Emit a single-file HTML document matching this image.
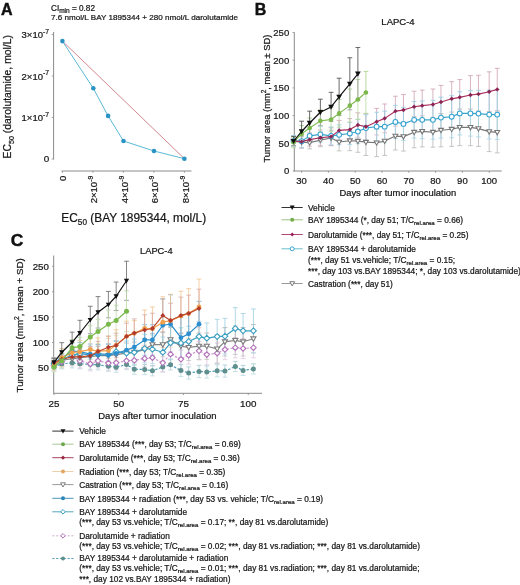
<!DOCTYPE html><html><head><meta charset="utf-8"><style>html,body{margin:0;padding:0;background:#fff;width:520px;height:585px;overflow:hidden}svg{display:block;will-change:transform}text{font-family:"Liberation Sans",sans-serif}text.t{fill:#161616;stroke:#161616;stroke-width:0.22px}</style></head><body>
<svg width="520" height="585" viewBox="0 0 520 585">
<rect width="520" height="585" fill="#fff"/>
<text class="L" x="0.9" y="15.2" font-size="16" text-anchor="start" font-weight="bold" fill="#111" stroke="#111" stroke-width="0.45">A</text>
<text class="t" x="51" y="11.3" font-size="8.2" fill="#222">CI<tspan font-size="6.5" dy="2">min</tspan><tspan dy="-2"> = 0.82</tspan></text>
<text class="t" x="51" y="20.2" font-size="8.1" text-anchor="start" font-weight="normal" fill="#222" >7.6 nmol/L BAY 1895344 + 280 nmol/L darolutamide</text>
<line x1="53.6" y1="32" x2="53.6" y2="159.5" stroke="#8a8a8a" stroke-width="1" />
<line x1="51.8" y1="159" x2="53.6" y2="159" stroke="#8a8a8a" stroke-width="0.8" />
<line x1="51.8" y1="117.5" x2="53.6" y2="117.5" stroke="#8a8a8a" stroke-width="0.8" />
<line x1="51.8" y1="76" x2="53.6" y2="76" stroke="#8a8a8a" stroke-width="0.8" />
<line x1="51.8" y1="34.5" x2="53.6" y2="34.5" stroke="#8a8a8a" stroke-width="0.8" />
<text class="t" x="49" y="38" font-size="9.5" text-anchor="end" fill="#222">3×10<tspan font-size="6.8" dy="-4.2">-7</tspan></text>
<text class="t" x="49" y="79.5" font-size="9.5" text-anchor="end" fill="#222">2×10<tspan font-size="6.8" dy="-4.2">-7</tspan></text>
<text class="t" x="49" y="121" font-size="9.5" text-anchor="end" fill="#222">1×10<tspan font-size="6.8" dy="-4.2">-7</tspan></text>
<text class="t" x="49.2" y="162.3" font-size="9.9" text-anchor="end" font-weight="normal" fill="#222" >0</text>
<line x1="61.5" y1="171" x2="191.5" y2="171" stroke="#8a8a8a" stroke-width="1" />
<line x1="62.4" y1="171" x2="62.4" y2="172.8" stroke="#8a8a8a" stroke-width="0.8" />
<line x1="92.9" y1="171" x2="92.9" y2="172.8" stroke="#8a8a8a" stroke-width="0.8" />
<line x1="123.4" y1="171" x2="123.4" y2="172.8" stroke="#8a8a8a" stroke-width="0.8" />
<line x1="153.9" y1="171" x2="153.9" y2="172.8" stroke="#8a8a8a" stroke-width="0.8" />
<line x1="184.4" y1="171" x2="184.4" y2="172.8" stroke="#8a8a8a" stroke-width="0.8" />
<text class="t" transform="translate(65.9,175.8) rotate(-90)" font-size="9.5" text-anchor="end" fill="#222">0</text>
<text class="t" transform="translate(97.3,175.8) rotate(-90)" font-size="9.5" text-anchor="end" fill="#222">2×10<tspan font-size="6.8" dy="-4.2">-9</tspan></text>
<text class="t" transform="translate(127.8,175.8) rotate(-90)" font-size="9.5" text-anchor="end" fill="#222">4×10<tspan font-size="6.8" dy="-4.2">-9</tspan></text>
<text class="t" transform="translate(158.3,175.8) rotate(-90)" font-size="9.5" text-anchor="end" fill="#222">6×10<tspan font-size="6.8" dy="-4.2">-9</tspan></text>
<text class="t" transform="translate(188.8,175.8) rotate(-90)" font-size="9.5" text-anchor="end" fill="#222">8×10<tspan font-size="6.8" dy="-4.2">-9</tspan></text>
<text class="t" x="61.3" y="222" font-size="11.9" fill="#222">EC<tspan font-size="8.2" dy="2.6">50</tspan><tspan dy="-2.6"> (BAY 1895344, mol/L)</tspan></text>
<text class="t" transform="translate(11.2,158.5) rotate(-90)" font-size="10.4" fill="#222">EC<tspan font-size="7.2" dy="2.4">50</tspan><tspan dy="-2.4"> (darolutamide, mol/L)</tspan></text>
<line x1="62.4" y1="41.1" x2="184.4" y2="158.7" stroke="#c97b80" stroke-width="0.9" />
<polyline points="62.4,41.1 93.3,88.3 108.1,115.9 123.5,141 154,151 184.4,158.7" fill="none" stroke="#5ab9d6" stroke-width="1.0" stroke-linejoin="round" />
<circle cx="62.4" cy="41.1" r="2.3" fill="#2b93c4"/>
<circle cx="93.3" cy="88.3" r="2.3" fill="#2b93c4"/>
<circle cx="108.1" cy="115.9" r="2.3" fill="#2b93c4"/>
<circle cx="123.5" cy="141" r="2.3" fill="#2b93c4"/>
<circle cx="154" cy="151" r="2.3" fill="#2b93c4"/>
<circle cx="184.4" cy="158.7" r="2.3" fill="#2b93c4"/>
<text class="L" x="254.8" y="14.8" font-size="16" text-anchor="start" font-weight="bold" fill="#111" stroke="#111" stroke-width="0.45">B</text>
<text class="t" x="398" y="25" font-size="9.5" text-anchor="middle" font-weight="normal" fill="#222" >LAPC-4</text>
<line x1="294.3" y1="32.3" x2="294.3" y2="171.5" stroke="#8a8a8a" stroke-width="1" />
<line x1="294.3" y1="171" x2="501.7" y2="171" stroke="#8a8a8a" stroke-width="1" />
<line x1="292.6" y1="171" x2="294.3" y2="171" stroke="#8a8a8a" stroke-width="0.8" />
<text class="t" x="289.2" y="174.45" font-size="9.5" text-anchor="end" font-weight="normal" fill="#222" >0</text>
<line x1="292.6" y1="143.3" x2="294.3" y2="143.3" stroke="#8a8a8a" stroke-width="0.8" />
<text class="t" x="289.2" y="146.75" font-size="9.5" text-anchor="end" font-weight="normal" fill="#222" >50</text>
<line x1="292.6" y1="115.6" x2="294.3" y2="115.6" stroke="#8a8a8a" stroke-width="0.8" />
<text class="t" x="289.2" y="119.05" font-size="9.5" text-anchor="end" font-weight="normal" fill="#222" >100</text>
<line x1="292.6" y1="87.9" x2="294.3" y2="87.9" stroke="#8a8a8a" stroke-width="0.8" />
<text class="t" x="289.2" y="91.35" font-size="9.5" text-anchor="end" font-weight="normal" fill="#222" >150</text>
<line x1="292.6" y1="60.2" x2="294.3" y2="60.2" stroke="#8a8a8a" stroke-width="0.8" />
<text class="t" x="289.2" y="63.65" font-size="9.5" text-anchor="end" font-weight="normal" fill="#222" >200</text>
<line x1="292.6" y1="32.5" x2="294.3" y2="32.5" stroke="#8a8a8a" stroke-width="0.8" />
<text class="t" x="289.2" y="35.95" font-size="9.5" text-anchor="end" font-weight="normal" fill="#222" >250</text>
<line x1="301.6" y1="171" x2="301.6" y2="172.8" stroke="#8a8a8a" stroke-width="0.8" />
<text class="t" x="301.6" y="184" font-size="9.5" text-anchor="middle" font-weight="normal" fill="#222" >30</text>
<line x1="328.4" y1="171" x2="328.4" y2="172.8" stroke="#8a8a8a" stroke-width="0.8" />
<text class="t" x="328.4" y="184" font-size="9.5" text-anchor="middle" font-weight="normal" fill="#222" >40</text>
<line x1="355.2" y1="171" x2="355.2" y2="172.8" stroke="#8a8a8a" stroke-width="0.8" />
<text class="t" x="355.2" y="184" font-size="9.5" text-anchor="middle" font-weight="normal" fill="#222" >50</text>
<line x1="382" y1="171" x2="382" y2="172.8" stroke="#8a8a8a" stroke-width="0.8" />
<text class="t" x="382" y="184" font-size="9.5" text-anchor="middle" font-weight="normal" fill="#222" >60</text>
<line x1="408.8" y1="171" x2="408.8" y2="172.8" stroke="#8a8a8a" stroke-width="0.8" />
<text class="t" x="408.8" y="184" font-size="9.5" text-anchor="middle" font-weight="normal" fill="#222" >70</text>
<line x1="435.6" y1="171" x2="435.6" y2="172.8" stroke="#8a8a8a" stroke-width="0.8" />
<text class="t" x="435.6" y="184" font-size="9.5" text-anchor="middle" font-weight="normal" fill="#222" >80</text>
<line x1="462.4" y1="171" x2="462.4" y2="172.8" stroke="#8a8a8a" stroke-width="0.8" />
<text class="t" x="462.4" y="184" font-size="9.5" text-anchor="middle" font-weight="normal" fill="#222" >90</text>
<line x1="489.2" y1="171" x2="489.2" y2="172.8" stroke="#8a8a8a" stroke-width="0.8" />
<text class="t" x="489.2" y="184" font-size="9.5" text-anchor="middle" font-weight="normal" fill="#222" >100</text>
<text class="t" x="397.8" y="195.6" font-size="9.4" text-anchor="middle" font-weight="normal" fill="#222" >Days after tumor inoculation</text>
<text class="t" transform="translate(269.6,98.6) rotate(-90)" font-size="9.35" text-anchor="middle" fill="#222">Tumor area (mm<tspan font-size="6.5" dy="-3.6">2</tspan><tspan dy="3.6">, mean ± SD)</tspan></text>
<line x1="293.56" y1="141.08" x2="293.56" y2="136.65" stroke="#b0b0b0" stroke-width="0.8" />
<line x1="291.16" y1="136.65" x2="295.96" y2="136.65" stroke="#b0b0b0" stroke-width="0.8" />
<line x1="293.56" y1="141.08" x2="293.56" y2="145.52" stroke="#b8b8b8" stroke-width="0.8" />
<line x1="291.16" y1="145.52" x2="295.96" y2="145.52" stroke="#b8b8b8" stroke-width="0.8" />
<line x1="301.6" y1="142.19" x2="301.6" y2="136.65" stroke="#b0b0b0" stroke-width="0.8" />
<line x1="299.2" y1="136.65" x2="304" y2="136.65" stroke="#b0b0b0" stroke-width="0.8" />
<line x1="301.6" y1="142.19" x2="301.6" y2="147.73" stroke="#b8b8b8" stroke-width="0.8" />
<line x1="299.2" y1="147.73" x2="304" y2="147.73" stroke="#b8b8b8" stroke-width="0.8" />
<line x1="309.64" y1="142.75" x2="309.64" y2="136.65" stroke="#b0b0b0" stroke-width="0.8" />
<line x1="307.24" y1="136.65" x2="312.04" y2="136.65" stroke="#b0b0b0" stroke-width="0.8" />
<line x1="309.64" y1="142.75" x2="309.64" y2="148.84" stroke="#b8b8b8" stroke-width="0.8" />
<line x1="307.24" y1="148.84" x2="312.04" y2="148.84" stroke="#b8b8b8" stroke-width="0.8" />
<line x1="320.36" y1="140.09" x2="320.36" y2="133.44" stroke="#b0b0b0" stroke-width="0.8" />
<line x1="317.96" y1="133.44" x2="322.76" y2="133.44" stroke="#b0b0b0" stroke-width="0.8" />
<line x1="320.36" y1="140.09" x2="320.36" y2="146.73" stroke="#b8b8b8" stroke-width="0.8" />
<line x1="317.96" y1="146.73" x2="322.76" y2="146.73" stroke="#b8b8b8" stroke-width="0.8" />
<line x1="331.08" y1="137.98" x2="331.08" y2="130.23" stroke="#b0b0b0" stroke-width="0.8" />
<line x1="328.68" y1="130.23" x2="333.48" y2="130.23" stroke="#b0b0b0" stroke-width="0.8" />
<line x1="331.08" y1="137.98" x2="331.08" y2="145.74" stroke="#b8b8b8" stroke-width="0.8" />
<line x1="328.68" y1="145.74" x2="333.48" y2="145.74" stroke="#b8b8b8" stroke-width="0.8" />
<line x1="339.12" y1="142.03" x2="339.12" y2="133.16" stroke="#b0b0b0" stroke-width="0.8" />
<line x1="336.72" y1="133.16" x2="341.52" y2="133.16" stroke="#b0b0b0" stroke-width="0.8" />
<line x1="339.12" y1="142.03" x2="339.12" y2="150.89" stroke="#b8b8b8" stroke-width="0.8" />
<line x1="336.72" y1="150.89" x2="341.52" y2="150.89" stroke="#b8b8b8" stroke-width="0.8" />
<line x1="349.84" y1="140.7" x2="349.84" y2="130.72" stroke="#b0b0b0" stroke-width="0.8" />
<line x1="347.44" y1="130.72" x2="352.24" y2="130.72" stroke="#b0b0b0" stroke-width="0.8" />
<line x1="349.84" y1="140.7" x2="349.84" y2="150.67" stroke="#b8b8b8" stroke-width="0.8" />
<line x1="347.44" y1="150.67" x2="352.24" y2="150.67" stroke="#b8b8b8" stroke-width="0.8" />
<line x1="357.88" y1="141.19" x2="357.88" y2="130.11" stroke="#b0b0b0" stroke-width="0.8" />
<line x1="355.48" y1="130.11" x2="360.28" y2="130.11" stroke="#b0b0b0" stroke-width="0.8" />
<line x1="357.88" y1="141.19" x2="357.88" y2="152.27" stroke="#b8b8b8" stroke-width="0.8" />
<line x1="355.48" y1="152.27" x2="360.28" y2="152.27" stroke="#b8b8b8" stroke-width="0.8" />
<line x1="365.92" y1="142.19" x2="365.92" y2="128.9" stroke="#b0b0b0" stroke-width="0.8" />
<line x1="363.52" y1="128.9" x2="368.32" y2="128.9" stroke="#b0b0b0" stroke-width="0.8" />
<line x1="365.92" y1="142.19" x2="365.92" y2="155.49" stroke="#b8b8b8" stroke-width="0.8" />
<line x1="363.52" y1="155.49" x2="368.32" y2="155.49" stroke="#b8b8b8" stroke-width="0.8" />
<line x1="376.64" y1="142.75" x2="376.64" y2="128.9" stroke="#b0b0b0" stroke-width="0.8" />
<line x1="374.24" y1="128.9" x2="379.04" y2="128.9" stroke="#b0b0b0" stroke-width="0.8" />
<line x1="376.64" y1="142.75" x2="376.64" y2="156.6" stroke="#b8b8b8" stroke-width="0.8" />
<line x1="374.24" y1="156.6" x2="379.04" y2="156.6" stroke="#b8b8b8" stroke-width="0.8" />
<line x1="384.68" y1="141.08" x2="384.68" y2="126.68" stroke="#b0b0b0" stroke-width="0.8" />
<line x1="382.28" y1="126.68" x2="387.08" y2="126.68" stroke="#b0b0b0" stroke-width="0.8" />
<line x1="384.68" y1="141.08" x2="384.68" y2="155.49" stroke="#b8b8b8" stroke-width="0.8" />
<line x1="382.28" y1="155.49" x2="387.08" y2="155.49" stroke="#b8b8b8" stroke-width="0.8" />
<line x1="395.4" y1="136.1" x2="395.4" y2="122.25" stroke="#b0b0b0" stroke-width="0.8" />
<line x1="393" y1="122.25" x2="397.8" y2="122.25" stroke="#b0b0b0" stroke-width="0.8" />
<line x1="395.4" y1="136.1" x2="395.4" y2="149.95" stroke="#b8b8b8" stroke-width="0.8" />
<line x1="393" y1="149.95" x2="397.8" y2="149.95" stroke="#b8b8b8" stroke-width="0.8" />
<line x1="403.44" y1="136.65" x2="403.44" y2="122.25" stroke="#b0b0b0" stroke-width="0.8" />
<line x1="401.04" y1="122.25" x2="405.84" y2="122.25" stroke="#b0b0b0" stroke-width="0.8" />
<line x1="403.44" y1="136.65" x2="403.44" y2="151.06" stroke="#b8b8b8" stroke-width="0.8" />
<line x1="401.04" y1="151.06" x2="405.84" y2="151.06" stroke="#b8b8b8" stroke-width="0.8" />
<line x1="414.16" y1="132.22" x2="414.16" y2="116.71" stroke="#b0b0b0" stroke-width="0.8" />
<line x1="411.76" y1="116.71" x2="416.56" y2="116.71" stroke="#b0b0b0" stroke-width="0.8" />
<line x1="414.16" y1="132.22" x2="414.16" y2="147.73" stroke="#b8b8b8" stroke-width="0.8" />
<line x1="411.76" y1="147.73" x2="416.56" y2="147.73" stroke="#b8b8b8" stroke-width="0.8" />
<line x1="422.2" y1="131.39" x2="422.2" y2="115.88" stroke="#b0b0b0" stroke-width="0.8" />
<line x1="419.8" y1="115.88" x2="424.6" y2="115.88" stroke="#b0b0b0" stroke-width="0.8" />
<line x1="422.2" y1="131.39" x2="422.2" y2="146.9" stroke="#b8b8b8" stroke-width="0.8" />
<line x1="419.8" y1="146.9" x2="424.6" y2="146.9" stroke="#b8b8b8" stroke-width="0.8" />
<line x1="432.92" y1="132.22" x2="432.92" y2="117.26" stroke="#b0b0b0" stroke-width="0.8" />
<line x1="430.52" y1="117.26" x2="435.32" y2="117.26" stroke="#b0b0b0" stroke-width="0.8" />
<line x1="432.92" y1="132.22" x2="432.92" y2="147.18" stroke="#b8b8b8" stroke-width="0.8" />
<line x1="430.52" y1="147.18" x2="435.32" y2="147.18" stroke="#b8b8b8" stroke-width="0.8" />
<line x1="440.96" y1="130.23" x2="440.96" y2="113.61" stroke="#b0b0b0" stroke-width="0.8" />
<line x1="438.56" y1="113.61" x2="443.36" y2="113.61" stroke="#b0b0b0" stroke-width="0.8" />
<line x1="440.96" y1="130.23" x2="440.96" y2="146.85" stroke="#b8b8b8" stroke-width="0.8" />
<line x1="438.56" y1="146.85" x2="443.36" y2="146.85" stroke="#b8b8b8" stroke-width="0.8" />
<line x1="451.68" y1="129.23" x2="451.68" y2="112.05" stroke="#b0b0b0" stroke-width="0.8" />
<line x1="449.28" y1="112.05" x2="454.08" y2="112.05" stroke="#b0b0b0" stroke-width="0.8" />
<line x1="451.68" y1="129.23" x2="451.68" y2="146.4" stroke="#b8b8b8" stroke-width="0.8" />
<line x1="449.28" y1="146.4" x2="454.08" y2="146.4" stroke="#b8b8b8" stroke-width="0.8" />
<line x1="459.72" y1="127.4" x2="459.72" y2="109.12" stroke="#b0b0b0" stroke-width="0.8" />
<line x1="457.32" y1="109.12" x2="462.12" y2="109.12" stroke="#b0b0b0" stroke-width="0.8" />
<line x1="459.72" y1="127.4" x2="459.72" y2="145.68" stroke="#b8b8b8" stroke-width="0.8" />
<line x1="457.32" y1="145.68" x2="462.12" y2="145.68" stroke="#b8b8b8" stroke-width="0.8" />
<line x1="470.44" y1="127.4" x2="470.44" y2="109.12" stroke="#b0b0b0" stroke-width="0.8" />
<line x1="468.04" y1="109.12" x2="472.84" y2="109.12" stroke="#b0b0b0" stroke-width="0.8" />
<line x1="470.44" y1="127.4" x2="470.44" y2="145.68" stroke="#b8b8b8" stroke-width="0.8" />
<line x1="468.04" y1="145.68" x2="472.84" y2="145.68" stroke="#b8b8b8" stroke-width="0.8" />
<line x1="478.48" y1="128.67" x2="478.48" y2="110.95" stroke="#b0b0b0" stroke-width="0.8" />
<line x1="476.08" y1="110.95" x2="480.88" y2="110.95" stroke="#b0b0b0" stroke-width="0.8" />
<line x1="478.48" y1="128.67" x2="478.48" y2="146.4" stroke="#b8b8b8" stroke-width="0.8" />
<line x1="476.08" y1="146.4" x2="480.88" y2="146.4" stroke="#b8b8b8" stroke-width="0.8" />
<line x1="489.2" y1="131.67" x2="489.2" y2="111.72" stroke="#b0b0b0" stroke-width="0.8" />
<line x1="486.8" y1="111.72" x2="491.6" y2="111.72" stroke="#b0b0b0" stroke-width="0.8" />
<line x1="489.2" y1="131.67" x2="489.2" y2="151.61" stroke="#b8b8b8" stroke-width="0.8" />
<line x1="486.8" y1="151.61" x2="491.6" y2="151.61" stroke="#b8b8b8" stroke-width="0.8" />
<line x1="497.24" y1="132.39" x2="497.24" y2="111.89" stroke="#b0b0b0" stroke-width="0.8" />
<line x1="494.84" y1="111.89" x2="499.64" y2="111.89" stroke="#b0b0b0" stroke-width="0.8" />
<line x1="497.24" y1="132.39" x2="497.24" y2="152.88" stroke="#b8b8b8" stroke-width="0.8" />
<line x1="494.84" y1="152.88" x2="499.64" y2="152.88" stroke="#b8b8b8" stroke-width="0.8" />
<line x1="293.56" y1="141.08" x2="293.56" y2="135.54" stroke="#cfa0b4" stroke-width="0.8" />
<line x1="291.16" y1="135.54" x2="295.96" y2="135.54" stroke="#cfa0b4" stroke-width="0.8" />
<line x1="293.56" y1="141.08" x2="293.56" y2="146.62" stroke="#d8b3c3" stroke-width="0.8" />
<line x1="291.16" y1="146.62" x2="295.96" y2="146.62" stroke="#d8b3c3" stroke-width="0.8" />
<line x1="301.6" y1="141.64" x2="301.6" y2="134.99" stroke="#cfa0b4" stroke-width="0.8" />
<line x1="299.2" y1="134.99" x2="304" y2="134.99" stroke="#cfa0b4" stroke-width="0.8" />
<line x1="301.6" y1="141.64" x2="301.6" y2="148.29" stroke="#d8b3c3" stroke-width="0.8" />
<line x1="299.2" y1="148.29" x2="304" y2="148.29" stroke="#d8b3c3" stroke-width="0.8" />
<line x1="309.64" y1="139.59" x2="309.64" y2="132.94" stroke="#cfa0b4" stroke-width="0.8" />
<line x1="307.24" y1="132.94" x2="312.04" y2="132.94" stroke="#cfa0b4" stroke-width="0.8" />
<line x1="309.64" y1="139.59" x2="309.64" y2="146.24" stroke="#d8b3c3" stroke-width="0.8" />
<line x1="307.24" y1="146.24" x2="312.04" y2="146.24" stroke="#d8b3c3" stroke-width="0.8" />
<line x1="320.36" y1="137.76" x2="320.36" y2="130" stroke="#cfa0b4" stroke-width="0.8" />
<line x1="317.96" y1="130" x2="322.76" y2="130" stroke="#cfa0b4" stroke-width="0.8" />
<line x1="320.36" y1="137.76" x2="320.36" y2="145.52" stroke="#d8b3c3" stroke-width="0.8" />
<line x1="317.96" y1="145.52" x2="322.76" y2="145.52" stroke="#d8b3c3" stroke-width="0.8" />
<line x1="331.08" y1="136.65" x2="331.08" y2="127.79" stroke="#cfa0b4" stroke-width="0.8" />
<line x1="328.68" y1="127.79" x2="333.48" y2="127.79" stroke="#cfa0b4" stroke-width="0.8" />
<line x1="331.08" y1="136.65" x2="331.08" y2="145.52" stroke="#d8b3c3" stroke-width="0.8" />
<line x1="328.68" y1="145.52" x2="333.48" y2="145.52" stroke="#d8b3c3" stroke-width="0.8" />
<line x1="339.12" y1="130.39" x2="339.12" y2="120.42" stroke="#cfa0b4" stroke-width="0.8" />
<line x1="336.72" y1="120.42" x2="341.52" y2="120.42" stroke="#cfa0b4" stroke-width="0.8" />
<line x1="339.12" y1="130.39" x2="339.12" y2="140.36" stroke="#d8b3c3" stroke-width="0.8" />
<line x1="336.72" y1="140.36" x2="341.52" y2="140.36" stroke="#d8b3c3" stroke-width="0.8" />
<line x1="349.84" y1="129.62" x2="349.84" y2="118.54" stroke="#cfa0b4" stroke-width="0.8" />
<line x1="347.44" y1="118.54" x2="352.24" y2="118.54" stroke="#cfa0b4" stroke-width="0.8" />
<line x1="349.84" y1="129.62" x2="349.84" y2="140.7" stroke="#d8b3c3" stroke-width="0.8" />
<line x1="347.44" y1="140.7" x2="352.24" y2="140.7" stroke="#d8b3c3" stroke-width="0.8" />
<line x1="357.88" y1="125.02" x2="357.88" y2="112.83" stroke="#cfa0b4" stroke-width="0.8" />
<line x1="355.48" y1="112.83" x2="360.28" y2="112.83" stroke="#cfa0b4" stroke-width="0.8" />
<line x1="357.88" y1="125.02" x2="357.88" y2="137.21" stroke="#d8b3c3" stroke-width="0.8" />
<line x1="355.48" y1="137.21" x2="360.28" y2="137.21" stroke="#d8b3c3" stroke-width="0.8" />
<line x1="365.92" y1="126.68" x2="365.92" y2="113.38" stroke="#cfa0b4" stroke-width="0.8" />
<line x1="363.52" y1="113.38" x2="368.32" y2="113.38" stroke="#cfa0b4" stroke-width="0.8" />
<line x1="365.92" y1="126.68" x2="365.92" y2="139.98" stroke="#d8b3c3" stroke-width="0.8" />
<line x1="363.52" y1="139.98" x2="368.32" y2="139.98" stroke="#d8b3c3" stroke-width="0.8" />
<line x1="376.64" y1="121.69" x2="376.64" y2="108.4" stroke="#cfa0b4" stroke-width="0.8" />
<line x1="374.24" y1="108.4" x2="379.04" y2="108.4" stroke="#cfa0b4" stroke-width="0.8" />
<line x1="376.64" y1="121.69" x2="376.64" y2="134.99" stroke="#d8b3c3" stroke-width="0.8" />
<line x1="374.24" y1="134.99" x2="379.04" y2="134.99" stroke="#d8b3c3" stroke-width="0.8" />
<line x1="384.68" y1="118.37" x2="384.68" y2="103.97" stroke="#cfa0b4" stroke-width="0.8" />
<line x1="382.28" y1="103.97" x2="387.08" y2="103.97" stroke="#cfa0b4" stroke-width="0.8" />
<line x1="384.68" y1="118.37" x2="384.68" y2="132.77" stroke="#d8b3c3" stroke-width="0.8" />
<line x1="382.28" y1="132.77" x2="387.08" y2="132.77" stroke="#d8b3c3" stroke-width="0.8" />
<line x1="395.4" y1="111.17" x2="395.4" y2="96.21" stroke="#cfa0b4" stroke-width="0.8" />
<line x1="393" y1="96.21" x2="397.8" y2="96.21" stroke="#cfa0b4" stroke-width="0.8" />
<line x1="395.4" y1="111.17" x2="395.4" y2="126.13" stroke="#d8b3c3" stroke-width="0.8" />
<line x1="393" y1="126.13" x2="397.8" y2="126.13" stroke="#d8b3c3" stroke-width="0.8" />
<line x1="403.44" y1="110.06" x2="403.44" y2="94.55" stroke="#cfa0b4" stroke-width="0.8" />
<line x1="401.04" y1="94.55" x2="405.84" y2="94.55" stroke="#cfa0b4" stroke-width="0.8" />
<line x1="403.44" y1="110.06" x2="403.44" y2="125.57" stroke="#d8b3c3" stroke-width="0.8" />
<line x1="401.04" y1="125.57" x2="405.84" y2="125.57" stroke="#d8b3c3" stroke-width="0.8" />
<line x1="414.16" y1="106.74" x2="414.16" y2="91.22" stroke="#cfa0b4" stroke-width="0.8" />
<line x1="411.76" y1="91.22" x2="416.56" y2="91.22" stroke="#cfa0b4" stroke-width="0.8" />
<line x1="414.16" y1="106.74" x2="414.16" y2="122.25" stroke="#d8b3c3" stroke-width="0.8" />
<line x1="411.76" y1="122.25" x2="416.56" y2="122.25" stroke="#d8b3c3" stroke-width="0.8" />
<line x1="422.2" y1="105.63" x2="422.2" y2="90.12" stroke="#cfa0b4" stroke-width="0.8" />
<line x1="419.8" y1="90.12" x2="424.6" y2="90.12" stroke="#cfa0b4" stroke-width="0.8" />
<line x1="422.2" y1="105.63" x2="422.2" y2="121.14" stroke="#d8b3c3" stroke-width="0.8" />
<line x1="419.8" y1="121.14" x2="424.6" y2="121.14" stroke="#d8b3c3" stroke-width="0.8" />
<line x1="432.92" y1="104.52" x2="432.92" y2="89.01" stroke="#cfa0b4" stroke-width="0.8" />
<line x1="430.52" y1="89.01" x2="435.32" y2="89.01" stroke="#cfa0b4" stroke-width="0.8" />
<line x1="432.92" y1="104.52" x2="432.92" y2="120.03" stroke="#d8b3c3" stroke-width="0.8" />
<line x1="430.52" y1="120.03" x2="435.32" y2="120.03" stroke="#d8b3c3" stroke-width="0.8" />
<line x1="440.96" y1="102.03" x2="440.96" y2="85.41" stroke="#cfa0b4" stroke-width="0.8" />
<line x1="438.56" y1="85.41" x2="443.36" y2="85.41" stroke="#cfa0b4" stroke-width="0.8" />
<line x1="440.96" y1="102.03" x2="440.96" y2="118.65" stroke="#d8b3c3" stroke-width="0.8" />
<line x1="438.56" y1="118.65" x2="443.36" y2="118.65" stroke="#d8b3c3" stroke-width="0.8" />
<line x1="451.68" y1="98.81" x2="451.68" y2="81.64" stroke="#cfa0b4" stroke-width="0.8" />
<line x1="449.28" y1="81.64" x2="454.08" y2="81.64" stroke="#cfa0b4" stroke-width="0.8" />
<line x1="451.68" y1="98.81" x2="451.68" y2="115.99" stroke="#d8b3c3" stroke-width="0.8" />
<line x1="449.28" y1="115.99" x2="454.08" y2="115.99" stroke="#d8b3c3" stroke-width="0.8" />
<line x1="459.72" y1="97.32" x2="459.72" y2="79.59" stroke="#cfa0b4" stroke-width="0.8" />
<line x1="457.32" y1="79.59" x2="462.12" y2="79.59" stroke="#cfa0b4" stroke-width="0.8" />
<line x1="459.72" y1="97.32" x2="459.72" y2="115.05" stroke="#d8b3c3" stroke-width="0.8" />
<line x1="457.32" y1="115.05" x2="462.12" y2="115.05" stroke="#d8b3c3" stroke-width="0.8" />
<line x1="470.44" y1="94.99" x2="470.44" y2="75.6" stroke="#cfa0b4" stroke-width="0.8" />
<line x1="468.04" y1="75.6" x2="472.84" y2="75.6" stroke="#cfa0b4" stroke-width="0.8" />
<line x1="470.44" y1="94.99" x2="470.44" y2="114.38" stroke="#d8b3c3" stroke-width="0.8" />
<line x1="468.04" y1="114.38" x2="472.84" y2="114.38" stroke="#d8b3c3" stroke-width="0.8" />
<line x1="478.48" y1="94.1" x2="478.48" y2="75.27" stroke="#cfa0b4" stroke-width="0.8" />
<line x1="476.08" y1="75.27" x2="480.88" y2="75.27" stroke="#cfa0b4" stroke-width="0.8" />
<line x1="478.48" y1="94.1" x2="478.48" y2="112.94" stroke="#d8b3c3" stroke-width="0.8" />
<line x1="476.08" y1="112.94" x2="480.88" y2="112.94" stroke="#d8b3c3" stroke-width="0.8" />
<line x1="489.2" y1="91.78" x2="489.2" y2="71.83" stroke="#cfa0b4" stroke-width="0.8" />
<line x1="486.8" y1="71.83" x2="491.6" y2="71.83" stroke="#cfa0b4" stroke-width="0.8" />
<line x1="489.2" y1="91.78" x2="489.2" y2="111.72" stroke="#d8b3c3" stroke-width="0.8" />
<line x1="486.8" y1="111.72" x2="491.6" y2="111.72" stroke="#d8b3c3" stroke-width="0.8" />
<line x1="497.24" y1="89.4" x2="497.24" y2="68.34" stroke="#cfa0b4" stroke-width="0.8" />
<line x1="494.84" y1="68.34" x2="499.64" y2="68.34" stroke="#cfa0b4" stroke-width="0.8" />
<line x1="497.24" y1="89.4" x2="497.24" y2="110.45" stroke="#d8b3c3" stroke-width="0.8" />
<line x1="494.84" y1="110.45" x2="499.64" y2="110.45" stroke="#d8b3c3" stroke-width="0.8" />
<line x1="293.56" y1="141.08" x2="293.56" y2="135.54" stroke="#93cde2" stroke-width="0.8" />
<line x1="291.16" y1="135.54" x2="295.96" y2="135.54" stroke="#93cde2" stroke-width="0.8" />
<line x1="293.56" y1="141.08" x2="293.56" y2="146.62" stroke="#a5d6e8" stroke-width="0.8" />
<line x1="291.16" y1="146.62" x2="295.96" y2="146.62" stroke="#a5d6e8" stroke-width="0.8" />
<line x1="301.6" y1="141.19" x2="301.6" y2="134.55" stroke="#93cde2" stroke-width="0.8" />
<line x1="299.2" y1="134.55" x2="304" y2="134.55" stroke="#93cde2" stroke-width="0.8" />
<line x1="301.6" y1="141.19" x2="301.6" y2="147.84" stroke="#a5d6e8" stroke-width="0.8" />
<line x1="299.2" y1="147.84" x2="304" y2="147.84" stroke="#a5d6e8" stroke-width="0.8" />
<line x1="309.64" y1="135.88" x2="309.64" y2="128.67" stroke="#93cde2" stroke-width="0.8" />
<line x1="307.24" y1="128.67" x2="312.04" y2="128.67" stroke="#93cde2" stroke-width="0.8" />
<line x1="309.64" y1="135.88" x2="309.64" y2="143.08" stroke="#a5d6e8" stroke-width="0.8" />
<line x1="307.24" y1="143.08" x2="312.04" y2="143.08" stroke="#a5d6e8" stroke-width="0.8" />
<line x1="320.36" y1="134.33" x2="320.36" y2="126.57" stroke="#93cde2" stroke-width="0.8" />
<line x1="317.96" y1="126.57" x2="322.76" y2="126.57" stroke="#93cde2" stroke-width="0.8" />
<line x1="320.36" y1="134.33" x2="320.36" y2="142.08" stroke="#a5d6e8" stroke-width="0.8" />
<line x1="317.96" y1="142.08" x2="322.76" y2="142.08" stroke="#a5d6e8" stroke-width="0.8" />
<line x1="331.08" y1="135.88" x2="331.08" y2="127.01" stroke="#93cde2" stroke-width="0.8" />
<line x1="328.68" y1="127.01" x2="333.48" y2="127.01" stroke="#93cde2" stroke-width="0.8" />
<line x1="331.08" y1="135.88" x2="331.08" y2="144.74" stroke="#a5d6e8" stroke-width="0.8" />
<line x1="328.68" y1="144.74" x2="333.48" y2="144.74" stroke="#a5d6e8" stroke-width="0.8" />
<line x1="339.12" y1="134.82" x2="339.12" y2="124.85" stroke="#93cde2" stroke-width="0.8" />
<line x1="336.72" y1="124.85" x2="341.52" y2="124.85" stroke="#93cde2" stroke-width="0.8" />
<line x1="339.12" y1="134.82" x2="339.12" y2="144.8" stroke="#a5d6e8" stroke-width="0.8" />
<line x1="336.72" y1="144.8" x2="341.52" y2="144.8" stroke="#a5d6e8" stroke-width="0.8" />
<line x1="349.84" y1="133.49" x2="349.84" y2="122.41" stroke="#93cde2" stroke-width="0.8" />
<line x1="347.44" y1="122.41" x2="352.24" y2="122.41" stroke="#93cde2" stroke-width="0.8" />
<line x1="349.84" y1="133.49" x2="349.84" y2="144.57" stroke="#a5d6e8" stroke-width="0.8" />
<line x1="347.44" y1="144.57" x2="352.24" y2="144.57" stroke="#a5d6e8" stroke-width="0.8" />
<line x1="357.88" y1="131.5" x2="357.88" y2="119.31" stroke="#93cde2" stroke-width="0.8" />
<line x1="355.48" y1="119.31" x2="360.28" y2="119.31" stroke="#93cde2" stroke-width="0.8" />
<line x1="357.88" y1="131.5" x2="357.88" y2="143.69" stroke="#a5d6e8" stroke-width="0.8" />
<line x1="355.48" y1="143.69" x2="360.28" y2="143.69" stroke="#a5d6e8" stroke-width="0.8" />
<line x1="365.92" y1="128.01" x2="365.92" y2="114.71" stroke="#93cde2" stroke-width="0.8" />
<line x1="363.52" y1="114.71" x2="368.32" y2="114.71" stroke="#93cde2" stroke-width="0.8" />
<line x1="365.92" y1="128.01" x2="365.92" y2="141.31" stroke="#a5d6e8" stroke-width="0.8" />
<line x1="363.52" y1="141.31" x2="368.32" y2="141.31" stroke="#a5d6e8" stroke-width="0.8" />
<line x1="376.64" y1="126.68" x2="376.64" y2="112.28" stroke="#93cde2" stroke-width="0.8" />
<line x1="374.24" y1="112.28" x2="379.04" y2="112.28" stroke="#93cde2" stroke-width="0.8" />
<line x1="376.64" y1="126.68" x2="376.64" y2="141.08" stroke="#a5d6e8" stroke-width="0.8" />
<line x1="374.24" y1="141.08" x2="379.04" y2="141.08" stroke="#a5d6e8" stroke-width="0.8" />
<line x1="384.68" y1="126.68" x2="384.68" y2="111.17" stroke="#93cde2" stroke-width="0.8" />
<line x1="382.28" y1="111.17" x2="387.08" y2="111.17" stroke="#93cde2" stroke-width="0.8" />
<line x1="384.68" y1="126.68" x2="384.68" y2="142.19" stroke="#a5d6e8" stroke-width="0.8" />
<line x1="382.28" y1="142.19" x2="387.08" y2="142.19" stroke="#a5d6e8" stroke-width="0.8" />
<line x1="395.4" y1="121.97" x2="395.4" y2="105.35" stroke="#93cde2" stroke-width="0.8" />
<line x1="393" y1="105.35" x2="397.8" y2="105.35" stroke="#93cde2" stroke-width="0.8" />
<line x1="395.4" y1="121.97" x2="395.4" y2="138.59" stroke="#a5d6e8" stroke-width="0.8" />
<line x1="393" y1="138.59" x2="397.8" y2="138.59" stroke="#a5d6e8" stroke-width="0.8" />
<line x1="403.44" y1="123.91" x2="403.44" y2="107.29" stroke="#93cde2" stroke-width="0.8" />
<line x1="401.04" y1="107.29" x2="405.84" y2="107.29" stroke="#93cde2" stroke-width="0.8" />
<line x1="403.44" y1="123.91" x2="403.44" y2="140.53" stroke="#a5d6e8" stroke-width="0.8" />
<line x1="401.04" y1="140.53" x2="405.84" y2="140.53" stroke="#a5d6e8" stroke-width="0.8" />
<line x1="414.16" y1="119.81" x2="414.16" y2="101.53" stroke="#93cde2" stroke-width="0.8" />
<line x1="411.76" y1="101.53" x2="416.56" y2="101.53" stroke="#93cde2" stroke-width="0.8" />
<line x1="414.16" y1="119.81" x2="414.16" y2="138.09" stroke="#a5d6e8" stroke-width="0.8" />
<line x1="411.76" y1="138.09" x2="416.56" y2="138.09" stroke="#a5d6e8" stroke-width="0.8" />
<line x1="422.2" y1="119.81" x2="422.2" y2="100.97" stroke="#93cde2" stroke-width="0.8" />
<line x1="419.8" y1="100.97" x2="424.6" y2="100.97" stroke="#93cde2" stroke-width="0.8" />
<line x1="422.2" y1="119.81" x2="422.2" y2="138.65" stroke="#a5d6e8" stroke-width="0.8" />
<line x1="419.8" y1="138.65" x2="424.6" y2="138.65" stroke="#a5d6e8" stroke-width="0.8" />
<line x1="432.92" y1="119.81" x2="432.92" y2="100.42" stroke="#93cde2" stroke-width="0.8" />
<line x1="430.52" y1="100.42" x2="435.32" y2="100.42" stroke="#93cde2" stroke-width="0.8" />
<line x1="432.92" y1="119.81" x2="432.92" y2="139.2" stroke="#a5d6e8" stroke-width="0.8" />
<line x1="430.52" y1="139.2" x2="435.32" y2="139.2" stroke="#a5d6e8" stroke-width="0.8" />
<line x1="440.96" y1="117.59" x2="440.96" y2="97.1" stroke="#93cde2" stroke-width="0.8" />
<line x1="438.56" y1="97.1" x2="443.36" y2="97.1" stroke="#93cde2" stroke-width="0.8" />
<line x1="440.96" y1="117.59" x2="440.96" y2="138.09" stroke="#a5d6e8" stroke-width="0.8" />
<line x1="438.56" y1="138.09" x2="443.36" y2="138.09" stroke="#a5d6e8" stroke-width="0.8" />
<line x1="451.68" y1="116.71" x2="451.68" y2="95.66" stroke="#93cde2" stroke-width="0.8" />
<line x1="449.28" y1="95.66" x2="454.08" y2="95.66" stroke="#93cde2" stroke-width="0.8" />
<line x1="451.68" y1="116.71" x2="451.68" y2="137.76" stroke="#a5d6e8" stroke-width="0.8" />
<line x1="449.28" y1="137.76" x2="454.08" y2="137.76" stroke="#a5d6e8" stroke-width="0.8" />
<line x1="459.72" y1="113.38" x2="459.72" y2="91.78" stroke="#93cde2" stroke-width="0.8" />
<line x1="457.32" y1="91.78" x2="462.12" y2="91.78" stroke="#93cde2" stroke-width="0.8" />
<line x1="459.72" y1="113.38" x2="459.72" y2="134.99" stroke="#a5d6e8" stroke-width="0.8" />
<line x1="457.32" y1="134.99" x2="462.12" y2="134.99" stroke="#a5d6e8" stroke-width="0.8" />
<line x1="470.44" y1="113.38" x2="470.44" y2="90.67" stroke="#93cde2" stroke-width="0.8" />
<line x1="468.04" y1="90.67" x2="472.84" y2="90.67" stroke="#93cde2" stroke-width="0.8" />
<line x1="470.44" y1="113.38" x2="470.44" y2="136.1" stroke="#a5d6e8" stroke-width="0.8" />
<line x1="468.04" y1="136.1" x2="472.84" y2="136.1" stroke="#a5d6e8" stroke-width="0.8" />
<line x1="478.48" y1="113.61" x2="478.48" y2="90.34" stroke="#93cde2" stroke-width="0.8" />
<line x1="476.08" y1="90.34" x2="480.88" y2="90.34" stroke="#93cde2" stroke-width="0.8" />
<line x1="478.48" y1="113.61" x2="478.48" y2="136.87" stroke="#a5d6e8" stroke-width="0.8" />
<line x1="476.08" y1="136.87" x2="480.88" y2="136.87" stroke="#a5d6e8" stroke-width="0.8" />
<line x1="489.2" y1="114.6" x2="489.2" y2="90.23" stroke="#93cde2" stroke-width="0.8" />
<line x1="486.8" y1="90.23" x2="491.6" y2="90.23" stroke="#93cde2" stroke-width="0.8" />
<line x1="489.2" y1="114.6" x2="489.2" y2="138.98" stroke="#a5d6e8" stroke-width="0.8" />
<line x1="486.8" y1="138.98" x2="491.6" y2="138.98" stroke="#a5d6e8" stroke-width="0.8" />
<line x1="497.24" y1="114.6" x2="497.24" y2="89.67" stroke="#93cde2" stroke-width="0.8" />
<line x1="494.84" y1="89.67" x2="499.64" y2="89.67" stroke="#93cde2" stroke-width="0.8" />
<line x1="497.24" y1="114.6" x2="497.24" y2="139.53" stroke="#a5d6e8" stroke-width="0.8" />
<line x1="494.84" y1="139.53" x2="499.64" y2="139.53" stroke="#a5d6e8" stroke-width="0.8" />
<line x1="293.56" y1="142.19" x2="293.56" y2="136.65" stroke="#a5cf85" stroke-width="0.8" />
<line x1="291.16" y1="136.65" x2="295.96" y2="136.65" stroke="#a5cf85" stroke-width="0.8" />
<line x1="293.56" y1="142.19" x2="293.56" y2="147.73" stroke="#b8d9a0" stroke-width="0.8" />
<line x1="291.16" y1="147.73" x2="295.96" y2="147.73" stroke="#b8d9a0" stroke-width="0.8" />
<line x1="301.6" y1="133.88" x2="301.6" y2="125.57" stroke="#a5cf85" stroke-width="0.8" />
<line x1="299.2" y1="125.57" x2="304" y2="125.57" stroke="#a5cf85" stroke-width="0.8" />
<line x1="301.6" y1="133.88" x2="301.6" y2="142.19" stroke="#b8d9a0" stroke-width="0.8" />
<line x1="299.2" y1="142.19" x2="304" y2="142.19" stroke="#b8d9a0" stroke-width="0.8" />
<line x1="309.64" y1="128.01" x2="309.64" y2="118.04" stroke="#a5cf85" stroke-width="0.8" />
<line x1="307.24" y1="118.04" x2="312.04" y2="118.04" stroke="#a5cf85" stroke-width="0.8" />
<line x1="309.64" y1="128.01" x2="309.64" y2="137.98" stroke="#b8d9a0" stroke-width="0.8" />
<line x1="307.24" y1="137.98" x2="312.04" y2="137.98" stroke="#b8d9a0" stroke-width="0.8" />
<line x1="320.36" y1="120.86" x2="320.36" y2="109.78" stroke="#a5cf85" stroke-width="0.8" />
<line x1="317.96" y1="109.78" x2="322.76" y2="109.78" stroke="#a5cf85" stroke-width="0.8" />
<line x1="320.36" y1="120.86" x2="320.36" y2="131.94" stroke="#b8d9a0" stroke-width="0.8" />
<line x1="317.96" y1="131.94" x2="322.76" y2="131.94" stroke="#b8d9a0" stroke-width="0.8" />
<line x1="331.08" y1="119.48" x2="331.08" y2="107.29" stroke="#a5cf85" stroke-width="0.8" />
<line x1="328.68" y1="107.29" x2="333.48" y2="107.29" stroke="#a5cf85" stroke-width="0.8" />
<line x1="331.08" y1="119.48" x2="331.08" y2="131.67" stroke="#b8d9a0" stroke-width="0.8" />
<line x1="328.68" y1="131.67" x2="333.48" y2="131.67" stroke="#b8d9a0" stroke-width="0.8" />
<line x1="339.12" y1="113.38" x2="339.12" y2="99.53" stroke="#a5cf85" stroke-width="0.8" />
<line x1="336.72" y1="99.53" x2="341.52" y2="99.53" stroke="#a5cf85" stroke-width="0.8" />
<line x1="339.12" y1="113.38" x2="339.12" y2="127.23" stroke="#b8d9a0" stroke-width="0.8" />
<line x1="336.72" y1="127.23" x2="341.52" y2="127.23" stroke="#b8d9a0" stroke-width="0.8" />
<line x1="349.84" y1="105.63" x2="349.84" y2="89.01" stroke="#a5cf85" stroke-width="0.8" />
<line x1="347.44" y1="89.01" x2="352.24" y2="89.01" stroke="#a5cf85" stroke-width="0.8" />
<line x1="349.84" y1="105.63" x2="349.84" y2="122.25" stroke="#b8d9a0" stroke-width="0.8" />
<line x1="347.44" y1="122.25" x2="352.24" y2="122.25" stroke="#b8d9a0" stroke-width="0.8" />
<line x1="357.88" y1="99.53" x2="357.88" y2="79.59" stroke="#a5cf85" stroke-width="0.8" />
<line x1="355.48" y1="79.59" x2="360.28" y2="79.59" stroke="#a5cf85" stroke-width="0.8" />
<line x1="357.88" y1="99.53" x2="357.88" y2="119.48" stroke="#b8d9a0" stroke-width="0.8" />
<line x1="355.48" y1="119.48" x2="360.28" y2="119.48" stroke="#b8d9a0" stroke-width="0.8" />
<line x1="365.92" y1="92.44" x2="365.92" y2="71.39" stroke="#a5cf85" stroke-width="0.8" />
<line x1="363.52" y1="71.39" x2="368.32" y2="71.39" stroke="#a5cf85" stroke-width="0.8" />
<line x1="365.92" y1="92.44" x2="365.92" y2="113.49" stroke="#b8d9a0" stroke-width="0.8" />
<line x1="363.52" y1="113.49" x2="368.32" y2="113.49" stroke="#b8d9a0" stroke-width="0.8" />
<line x1="293.56" y1="141.08" x2="293.56" y2="136.65" stroke="#444" stroke-width="0.8" />
<line x1="291.16" y1="136.65" x2="295.96" y2="136.65" stroke="#444" stroke-width="0.8" />
<line x1="293.56" y1="141.08" x2="293.56" y2="145.52" stroke="#999" stroke-width="0.8" />
<line x1="291.16" y1="145.52" x2="295.96" y2="145.52" stroke="#999" stroke-width="0.8" />
<line x1="301.6" y1="131.5" x2="301.6" y2="121.2" stroke="#444" stroke-width="0.8" />
<line x1="299.2" y1="121.2" x2="304" y2="121.2" stroke="#444" stroke-width="0.8" />
<line x1="301.6" y1="131.5" x2="301.6" y2="141.8" stroke="#999" stroke-width="0.8" />
<line x1="299.2" y1="141.8" x2="304" y2="141.8" stroke="#999" stroke-width="0.8" />
<line x1="309.64" y1="123.02" x2="309.64" y2="111.17" stroke="#444" stroke-width="0.8" />
<line x1="307.24" y1="111.17" x2="312.04" y2="111.17" stroke="#444" stroke-width="0.8" />
<line x1="309.64" y1="123.02" x2="309.64" y2="134.88" stroke="#999" stroke-width="0.8" />
<line x1="307.24" y1="134.88" x2="312.04" y2="134.88" stroke="#999" stroke-width="0.8" />
<line x1="320.36" y1="112.28" x2="320.36" y2="99.2" stroke="#444" stroke-width="0.8" />
<line x1="317.96" y1="99.2" x2="322.76" y2="99.2" stroke="#444" stroke-width="0.8" />
<line x1="320.36" y1="112.28" x2="320.36" y2="125.35" stroke="#999" stroke-width="0.8" />
<line x1="317.96" y1="125.35" x2="322.76" y2="125.35" stroke="#999" stroke-width="0.8" />
<line x1="331.08" y1="106.9" x2="331.08" y2="92.33" stroke="#444" stroke-width="0.8" />
<line x1="328.68" y1="92.33" x2="333.48" y2="92.33" stroke="#444" stroke-width="0.8" />
<line x1="331.08" y1="106.9" x2="331.08" y2="121.47" stroke="#999" stroke-width="0.8" />
<line x1="328.68" y1="121.47" x2="333.48" y2="121.47" stroke="#999" stroke-width="0.8" />
<line x1="339.12" y1="96.87" x2="339.12" y2="78.2" stroke="#444" stroke-width="0.8" />
<line x1="336.72" y1="78.2" x2="341.52" y2="78.2" stroke="#444" stroke-width="0.8" />
<line x1="339.12" y1="96.87" x2="339.12" y2="115.54" stroke="#999" stroke-width="0.8" />
<line x1="336.72" y1="115.54" x2="341.52" y2="115.54" stroke="#999" stroke-width="0.8" />
<line x1="349.84" y1="83.8" x2="349.84" y2="57.76" stroke="#444" stroke-width="0.8" />
<line x1="347.44" y1="57.76" x2="352.24" y2="57.76" stroke="#444" stroke-width="0.8" />
<line x1="349.84" y1="83.8" x2="349.84" y2="109.84" stroke="#999" stroke-width="0.8" />
<line x1="347.44" y1="109.84" x2="352.24" y2="109.84" stroke="#999" stroke-width="0.8" />
<line x1="357.88" y1="73.77" x2="357.88" y2="47.46" stroke="#444" stroke-width="0.8" />
<line x1="355.48" y1="47.46" x2="360.28" y2="47.46" stroke="#444" stroke-width="0.8" />
<line x1="357.88" y1="73.77" x2="357.88" y2="100.09" stroke="#999" stroke-width="0.8" />
<line x1="355.48" y1="100.09" x2="360.28" y2="100.09" stroke="#999" stroke-width="0.8" />
<polyline points="293.56,141.08 301.6,142.19 309.64,142.75 320.36,140.09 331.08,137.98 339.12,142.03 349.84,140.7 357.88,141.19 365.92,142.19 376.64,142.75 384.68,141.08 395.4,136.1 403.44,136.65 414.16,132.22 422.2,131.39 432.92,132.22 440.96,130.23 451.68,129.23 459.72,127.4 470.44,127.4 478.48,128.67 489.2,131.67 497.24,132.39" fill="none" stroke="#767676" stroke-width="1.15" stroke-linejoin="round" />
<polygon points="291.1,139.24 296.02,139.24 293.56,143.54" fill="#fff" stroke="#767676" stroke-width="1.05"/>
<polygon points="299.14,140.35 304.06,140.35 301.6,144.65" fill="#fff" stroke="#767676" stroke-width="1.05"/>
<polygon points="307.18,140.9 312.1,140.9 309.64,145.21" fill="#fff" stroke="#767676" stroke-width="1.05"/>
<polygon points="317.9,138.24 322.82,138.24 320.36,142.55" fill="#fff" stroke="#767676" stroke-width="1.05"/>
<polygon points="328.62,136.14 333.54,136.14 331.08,140.44" fill="#fff" stroke="#767676" stroke-width="1.05"/>
<polygon points="336.66,140.18 341.58,140.18 339.12,144.49" fill="#fff" stroke="#767676" stroke-width="1.05"/>
<polygon points="347.38,138.85 352.3,138.85 349.84,143.16" fill="#fff" stroke="#767676" stroke-width="1.05"/>
<polygon points="355.42,139.35 360.34,139.35 357.88,143.65" fill="#fff" stroke="#767676" stroke-width="1.05"/>
<polygon points="363.46,140.35 368.38,140.35 365.92,144.65" fill="#fff" stroke="#767676" stroke-width="1.05"/>
<polygon points="374.18,140.9 379.1,140.9 376.64,145.21" fill="#fff" stroke="#767676" stroke-width="1.05"/>
<polygon points="382.22,139.24 387.14,139.24 384.68,143.54" fill="#fff" stroke="#767676" stroke-width="1.05"/>
<polygon points="392.94,134.25 397.86,134.25 395.4,138.56" fill="#fff" stroke="#767676" stroke-width="1.05"/>
<polygon points="400.98,134.81 405.9,134.81 403.44,139.11" fill="#fff" stroke="#767676" stroke-width="1.05"/>
<polygon points="411.7,130.38 416.62,130.38 414.16,134.68" fill="#fff" stroke="#767676" stroke-width="1.05"/>
<polygon points="419.74,129.54 424.66,129.54 422.2,133.85" fill="#fff" stroke="#767676" stroke-width="1.05"/>
<polygon points="430.46,130.38 435.38,130.38 432.92,134.68" fill="#fff" stroke="#767676" stroke-width="1.05"/>
<polygon points="438.5,128.38 443.42,128.38 440.96,132.69" fill="#fff" stroke="#767676" stroke-width="1.05"/>
<polygon points="449.22,127.38 454.14,127.38 451.68,131.69" fill="#fff" stroke="#767676" stroke-width="1.05"/>
<polygon points="457.26,125.56 462.18,125.56 459.72,129.86" fill="#fff" stroke="#767676" stroke-width="1.05"/>
<polygon points="467.98,125.56 472.9,125.56 470.44,129.86" fill="#fff" stroke="#767676" stroke-width="1.05"/>
<polygon points="476.02,126.83 480.94,126.83 478.48,131.13" fill="#fff" stroke="#767676" stroke-width="1.05"/>
<polygon points="486.74,129.82 491.66,129.82 489.2,134.13" fill="#fff" stroke="#767676" stroke-width="1.05"/>
<polygon points="494.78,130.54 499.7,130.54 497.24,134.85" fill="#fff" stroke="#767676" stroke-width="1.05"/>
<polyline points="293.56,141.08 301.6,141.19 309.64,135.88 320.36,134.33 331.08,135.88 339.12,134.82 349.84,133.49 357.88,131.5 365.92,128.01 376.64,126.68 384.68,126.68 395.4,121.97 403.44,123.91 414.16,119.81 422.2,119.81 432.92,119.81 440.96,117.59 451.68,116.71 459.72,113.38 470.44,113.38 478.48,113.61 489.2,114.6 497.24,114.6" fill="none" stroke="#3aa3c8" stroke-width="1.15" stroke-linejoin="round" />
<circle cx="293.56" cy="141.08" r="2.4" fill="#fff" stroke="#32a2d0" stroke-width="1.05"/>
<circle cx="301.6" cy="141.19" r="2.4" fill="#fff" stroke="#32a2d0" stroke-width="1.05"/>
<circle cx="309.64" cy="135.88" r="2.4" fill="#fff" stroke="#32a2d0" stroke-width="1.05"/>
<circle cx="320.36" cy="134.33" r="2.4" fill="#fff" stroke="#32a2d0" stroke-width="1.05"/>
<circle cx="331.08" cy="135.88" r="2.4" fill="#fff" stroke="#32a2d0" stroke-width="1.05"/>
<circle cx="339.12" cy="134.82" r="2.4" fill="#fff" stroke="#32a2d0" stroke-width="1.05"/>
<circle cx="349.84" cy="133.49" r="2.4" fill="#fff" stroke="#32a2d0" stroke-width="1.05"/>
<circle cx="357.88" cy="131.5" r="2.4" fill="#fff" stroke="#32a2d0" stroke-width="1.05"/>
<circle cx="365.92" cy="128.01" r="2.4" fill="#fff" stroke="#32a2d0" stroke-width="1.05"/>
<circle cx="376.64" cy="126.68" r="2.4" fill="#fff" stroke="#32a2d0" stroke-width="1.05"/>
<circle cx="384.68" cy="126.68" r="2.4" fill="#fff" stroke="#32a2d0" stroke-width="1.05"/>
<circle cx="395.4" cy="121.97" r="2.4" fill="#fff" stroke="#32a2d0" stroke-width="1.05"/>
<circle cx="403.44" cy="123.91" r="2.4" fill="#fff" stroke="#32a2d0" stroke-width="1.05"/>
<circle cx="414.16" cy="119.81" r="2.4" fill="#fff" stroke="#32a2d0" stroke-width="1.05"/>
<circle cx="422.2" cy="119.81" r="2.4" fill="#fff" stroke="#32a2d0" stroke-width="1.05"/>
<circle cx="432.92" cy="119.81" r="2.4" fill="#fff" stroke="#32a2d0" stroke-width="1.05"/>
<circle cx="440.96" cy="117.59" r="2.4" fill="#fff" stroke="#32a2d0" stroke-width="1.05"/>
<circle cx="451.68" cy="116.71" r="2.4" fill="#fff" stroke="#32a2d0" stroke-width="1.05"/>
<circle cx="459.72" cy="113.38" r="2.4" fill="#fff" stroke="#32a2d0" stroke-width="1.05"/>
<circle cx="470.44" cy="113.38" r="2.4" fill="#fff" stroke="#32a2d0" stroke-width="1.05"/>
<circle cx="478.48" cy="113.61" r="2.4" fill="#fff" stroke="#32a2d0" stroke-width="1.05"/>
<circle cx="489.2" cy="114.6" r="2.4" fill="#fff" stroke="#32a2d0" stroke-width="1.05"/>
<circle cx="497.24" cy="114.6" r="2.4" fill="#fff" stroke="#32a2d0" stroke-width="1.05"/>
<polyline points="293.56,141.08 301.6,141.64 309.64,139.59 320.36,137.76 331.08,136.65 339.12,130.39 349.84,129.62 357.88,125.02 365.92,126.68 376.64,121.69 384.68,118.37 395.4,111.17 403.44,110.06 414.16,106.74 422.2,105.63 432.92,104.52 440.96,102.03 451.68,98.81 459.72,97.32 470.44,94.99 478.48,94.1 489.2,91.78 497.24,89.4" fill="none" stroke="#a92e5e" stroke-width="1.15" stroke-linejoin="round" />
<polygon points="293.56,138.88 295.76,141.08 293.56,143.29 291.36,141.08" fill="#8a2452"/>
<polygon points="301.6,139.43 303.81,141.64 301.6,143.84 299.4,141.64" fill="#8a2452"/>
<polygon points="309.64,137.38 311.85,139.59 309.64,141.79 307.44,139.59" fill="#8a2452"/>
<polygon points="320.36,135.55 322.56,137.76 320.36,139.97 318.16,137.76" fill="#8a2452"/>
<polygon points="331.08,134.45 333.29,136.65 331.08,138.86 328.88,136.65" fill="#8a2452"/>
<polygon points="339.12,128.19 341.32,130.39 339.12,132.6 336.92,130.39" fill="#8a2452"/>
<polygon points="349.84,127.41 352.05,129.62 349.84,131.82 347.64,129.62" fill="#8a2452"/>
<polygon points="357.88,122.81 360.08,125.02 357.88,127.22 355.68,125.02" fill="#8a2452"/>
<polygon points="365.92,124.47 368.12,126.68 365.92,128.88 363.72,126.68" fill="#8a2452"/>
<polygon points="376.64,119.49 378.85,121.69 376.64,123.9 374.44,121.69" fill="#8a2452"/>
<polygon points="384.68,116.17 386.88,118.37 384.68,120.58 382.48,118.37" fill="#8a2452"/>
<polygon points="395.4,108.96 397.61,111.17 395.4,113.37 393.2,111.17" fill="#8a2452"/>
<polygon points="403.44,107.86 405.65,110.06 403.44,112.27 401.24,110.06" fill="#8a2452"/>
<polygon points="414.16,104.53 416.37,106.74 414.16,108.94 411.96,106.74" fill="#8a2452"/>
<polygon points="422.2,103.42 424.41,105.63 422.2,107.83 420,105.63" fill="#8a2452"/>
<polygon points="432.92,102.31 435.13,104.52 432.92,106.72 430.72,104.52" fill="#8a2452"/>
<polygon points="440.96,99.82 443.17,102.03 440.96,104.23 438.76,102.03" fill="#8a2452"/>
<polygon points="451.68,96.61 453.89,98.81 451.68,101.02 449.48,98.81" fill="#8a2452"/>
<polygon points="459.72,95.11 461.93,97.32 459.72,99.52 457.52,97.32" fill="#8a2452"/>
<polygon points="470.44,92.79 472.65,94.99 470.44,97.2 468.24,94.99" fill="#8a2452"/>
<polygon points="478.48,91.9 480.69,94.1 478.48,96.31 476.28,94.1" fill="#8a2452"/>
<polygon points="489.2,89.57 491.41,91.78 489.2,93.98 487,91.78" fill="#8a2452"/>
<polygon points="497.24,87.19 499.44,89.4 497.24,91.6 495.04,89.4" fill="#8a2452"/>
<polyline points="293.56,142.19 301.6,133.88 309.64,128.01 320.36,120.86 331.08,119.48 339.12,113.38 349.84,105.63 357.88,99.53 365.92,92.44" fill="none" stroke="#7cb84c" stroke-width="1.15" stroke-linejoin="round" />
<circle cx="293.56" cy="142.19" r="2.3" fill="#7cb84c"/>
<circle cx="301.6" cy="133.88" r="2.3" fill="#7cb84c"/>
<circle cx="309.64" cy="128.01" r="2.3" fill="#7cb84c"/>
<circle cx="320.36" cy="120.86" r="2.3" fill="#7cb84c"/>
<circle cx="331.08" cy="119.48" r="2.3" fill="#7cb84c"/>
<circle cx="339.12" cy="113.38" r="2.3" fill="#7cb84c"/>
<circle cx="349.84" cy="105.63" r="2.3" fill="#7cb84c"/>
<circle cx="357.88" cy="99.53" r="2.3" fill="#7cb84c"/>
<circle cx="365.92" cy="92.44" r="2.3" fill="#7cb84c"/>
<polyline points="293.56,141.08 301.6,131.5 309.64,123.02 320.36,112.28 331.08,106.9 339.12,96.87 349.84,83.8 357.88,73.77" fill="none" stroke="#111" stroke-width="1.15" stroke-linejoin="round" />
<polygon points="290.69,138.93 296.44,138.93 293.56,143.96" fill="#111"/>
<polygon points="298.73,129.34 304.48,129.34 301.6,134.37" fill="#111"/>
<polygon points="306.77,120.87 312.52,120.87 309.64,125.9" fill="#111"/>
<polygon points="317.49,110.12 323.24,110.12 320.36,115.15" fill="#111"/>
<polygon points="328.21,104.75 333.96,104.75 331.08,109.78" fill="#111"/>
<polygon points="336.25,94.72 342,94.72 339.12,99.75" fill="#111"/>
<polygon points="346.97,81.64 352.72,81.64 349.84,86.68" fill="#111"/>
<polygon points="355,71.62 360.75,71.62 357.88,76.65" fill="#111"/>
<line x1="281.5" y1="207.5" x2="302.7" y2="207.5" stroke="#333" stroke-width="1.0" />
<polygon points="289.7,205.62 294.7,205.62 292.2,210" fill="#111"/>
<text class="t" x="308" y="210.6" font-size="8.3" fill="#222">Vehicle</text>
<line x1="281.5" y1="219.8" x2="302.7" y2="219.8" stroke="#9dc283" stroke-width="1.0" />
<circle cx="292.2" cy="219.8" r="2.0" fill="#72ad4a"/>
<text class="t" x="308" y="222.9" font-size="8.3" fill="#222">BAY 1895344 (*, day 51; T/C<tspan font-size="6.1" dy="1.9">rel.area</tspan><tspan dy="-1.9"> = 0.66)</tspan></text>
<line x1="281.5" y1="234.5" x2="302.7" y2="234.5" stroke="#b04472" stroke-width="1.0" />
<polygon points="292.2,232.4 294.3,234.5 292.2,236.6 290.1,234.5" fill="#98245a"/>
<text class="t" x="308" y="237.6" font-size="8.3" fill="#222">Darolutamide (***, day 51; T/C<tspan font-size="6.1" dy="1.9">rel.area</tspan><tspan dy="-1.9"> = 0.25)</tspan></text>
<line x1="281.5" y1="248.8" x2="302.7" y2="248.8" stroke="#6cbfca" stroke-width="1.0" />
<circle cx="292.2" cy="248.8" r="2.0" fill="#fff" stroke="#36a6d2" stroke-width="1.0"/>
<text class="t" x="308" y="251.9" font-size="8.3" fill="#222">BAY 1895344 + darolutamide</text>
<text class="t" x="308" y="262.7" font-size="8.3" fill="#222">(***, day 51 vs.vehicle; T/C<tspan font-size="6.1" dy="1.9">rel.area</tspan><tspan dy="-1.9"> = 0.15;</tspan></text>
<text class="t" x="308" y="273.9" font-size="8.3" fill="#222">***, day 103 vs.BAY 1895344; *, day 103 vs.darolutamide)</text>
<line x1="281.5" y1="283.5" x2="302.7" y2="283.5" stroke="#9a9a9a" stroke-width="1.0" />
<polygon points="289.8,281.7 294.6,281.7 292.2,285.9" fill="#fff" stroke="#7a7a7a" stroke-width="1.0"/>
<text class="t" x="308" y="286.5" font-size="8.3" fill="#222">Castration (***, day 51)</text>
<text class="L" x="10.8" y="245.6" font-size="17.4" text-anchor="start" font-weight="bold" fill="#111" stroke="#111" stroke-width="0.45">C</text>
<text class="t" x="156.3" y="253.6" font-size="9.3" text-anchor="middle" font-weight="normal" fill="#222" >LAPC-4</text>
<line x1="53.7" y1="255.5" x2="53.7" y2="393.8" stroke="#8a8a8a" stroke-width="1" />
<line x1="53.7" y1="393.3" x2="262" y2="393.3" stroke="#8a8a8a" stroke-width="1" />
<line x1="52" y1="367.9" x2="53.7" y2="367.9" stroke="#8a8a8a" stroke-width="0.8" />
<text class="t" x="48.9" y="371.4" font-size="9.7" text-anchor="end" font-weight="normal" fill="#222" >50</text>
<line x1="52" y1="342.5" x2="53.7" y2="342.5" stroke="#8a8a8a" stroke-width="0.8" />
<text class="t" x="48.9" y="346" font-size="9.7" text-anchor="end" font-weight="normal" fill="#222" >100</text>
<line x1="52" y1="317.1" x2="53.7" y2="317.1" stroke="#8a8a8a" stroke-width="0.8" />
<text class="t" x="48.9" y="320.6" font-size="9.7" text-anchor="end" font-weight="normal" fill="#222" >150</text>
<line x1="52" y1="291.7" x2="53.7" y2="291.7" stroke="#8a8a8a" stroke-width="0.8" />
<text class="t" x="48.9" y="295.2" font-size="9.7" text-anchor="end" font-weight="normal" fill="#222" >200</text>
<line x1="52" y1="266.3" x2="53.7" y2="266.3" stroke="#8a8a8a" stroke-width="0.8" />
<text class="t" x="48.9" y="269.8" font-size="9.7" text-anchor="end" font-weight="normal" fill="#222" >250</text>
<line x1="54" y1="393.3" x2="54" y2="395.1" stroke="#8a8a8a" stroke-width="0.8" />
<text class="t" x="54" y="407" font-size="9.8" text-anchor="middle" font-weight="normal" fill="#222" >25</text>
<line x1="118.75" y1="393.3" x2="118.75" y2="395.1" stroke="#8a8a8a" stroke-width="0.8" />
<text class="t" x="118.75" y="407" font-size="9.8" text-anchor="middle" font-weight="normal" fill="#222" >50</text>
<line x1="183.5" y1="393.3" x2="183.5" y2="395.1" stroke="#8a8a8a" stroke-width="0.8" />
<text class="t" x="183.5" y="407" font-size="9.8" text-anchor="middle" font-weight="normal" fill="#222" >75</text>
<line x1="248.25" y1="393.3" x2="248.25" y2="395.1" stroke="#8a8a8a" stroke-width="0.8" />
<text class="t" x="248.25" y="407" font-size="9.8" text-anchor="middle" font-weight="normal" fill="#222" >100</text>
<text class="t" x="157.4" y="419.4" font-size="9.5" text-anchor="middle" font-weight="normal" fill="#222" >Days after tumor inoculation</text>
<text class="t" transform="translate(23,325.3) rotate(-90)" font-size="9.8" text-anchor="middle" fill="#222">Tumor area (mm<tspan font-size="6.8" dy="-3.7">2</tspan><tspan dy="3.7">, mean + SD)</tspan></text>
<line x1="54" y1="366.88" x2="54" y2="370.95" stroke="#bad8de" stroke-width="0.8" />
<line x1="51.6" y1="370.95" x2="56.4" y2="370.95" stroke="#bad8de" stroke-width="0.8" />
<line x1="61.77" y1="363.84" x2="61.77" y2="368.92" stroke="#bad8de" stroke-width="0.8" />
<line x1="59.37" y1="368.92" x2="64.17" y2="368.92" stroke="#bad8de" stroke-width="0.8" />
<line x1="72.13" y1="362.82" x2="72.13" y2="367.9" stroke="#bad8de" stroke-width="0.8" />
<line x1="69.73" y1="367.9" x2="74.53" y2="367.9" stroke="#bad8de" stroke-width="0.8" />
<line x1="79.9" y1="363.84" x2="79.9" y2="368.92" stroke="#bad8de" stroke-width="0.8" />
<line x1="77.5" y1="368.92" x2="82.3" y2="368.92" stroke="#bad8de" stroke-width="0.8" />
<line x1="90.26" y1="364.34" x2="90.26" y2="369.42" stroke="#bad8de" stroke-width="0.8" />
<line x1="87.86" y1="369.42" x2="92.66" y2="369.42" stroke="#bad8de" stroke-width="0.8" />
<line x1="98.03" y1="364.85" x2="98.03" y2="369.93" stroke="#bad8de" stroke-width="0.8" />
<line x1="95.63" y1="369.93" x2="100.43" y2="369.93" stroke="#bad8de" stroke-width="0.8" />
<line x1="108.39" y1="366.17" x2="108.39" y2="371.25" stroke="#bad8de" stroke-width="0.8" />
<line x1="105.99" y1="371.25" x2="110.79" y2="371.25" stroke="#bad8de" stroke-width="0.8" />
<line x1="116.16" y1="367.19" x2="116.16" y2="372.27" stroke="#bad8de" stroke-width="0.8" />
<line x1="113.76" y1="372.27" x2="118.56" y2="372.27" stroke="#bad8de" stroke-width="0.8" />
<line x1="126.52" y1="364.6" x2="126.52" y2="369.68" stroke="#bad8de" stroke-width="0.8" />
<line x1="124.12" y1="369.68" x2="128.92" y2="369.68" stroke="#bad8de" stroke-width="0.8" />
<line x1="134.29" y1="369.22" x2="134.29" y2="374.3" stroke="#bad8de" stroke-width="0.8" />
<line x1="131.89" y1="374.3" x2="136.69" y2="374.3" stroke="#bad8de" stroke-width="0.8" />
<line x1="144.65" y1="369.53" x2="144.65" y2="374.61" stroke="#bad8de" stroke-width="0.8" />
<line x1="142.25" y1="374.61" x2="147.05" y2="374.61" stroke="#bad8de" stroke-width="0.8" />
<line x1="152.42" y1="370.8" x2="152.42" y2="375.88" stroke="#bad8de" stroke-width="0.8" />
<line x1="150.02" y1="375.88" x2="154.82" y2="375.88" stroke="#bad8de" stroke-width="0.8" />
<line x1="162.78" y1="366.88" x2="162.78" y2="371.96" stroke="#bad8de" stroke-width="0.8" />
<line x1="160.38" y1="371.96" x2="165.18" y2="371.96" stroke="#bad8de" stroke-width="0.8" />
<line x1="170.55" y1="364.85" x2="170.55" y2="369.93" stroke="#bad8de" stroke-width="0.8" />
<line x1="168.15" y1="369.93" x2="172.95" y2="369.93" stroke="#bad8de" stroke-width="0.8" />
<line x1="180.91" y1="370.49" x2="180.91" y2="376.59" stroke="#bad8de" stroke-width="0.8" />
<line x1="178.51" y1="376.59" x2="183.31" y2="376.59" stroke="#bad8de" stroke-width="0.8" />
<line x1="188.68" y1="372.98" x2="188.68" y2="379.08" stroke="#bad8de" stroke-width="0.8" />
<line x1="186.28" y1="379.08" x2="191.08" y2="379.08" stroke="#bad8de" stroke-width="0.8" />
<line x1="199.04" y1="371.46" x2="199.04" y2="377.55" stroke="#bad8de" stroke-width="0.8" />
<line x1="196.64" y1="377.55" x2="201.44" y2="377.55" stroke="#bad8de" stroke-width="0.8" />
<line x1="206.81" y1="371.96" x2="206.81" y2="378.06" stroke="#bad8de" stroke-width="0.8" />
<line x1="204.41" y1="378.06" x2="209.21" y2="378.06" stroke="#bad8de" stroke-width="0.8" />
<line x1="217.17" y1="370.8" x2="217.17" y2="376.89" stroke="#bad8de" stroke-width="0.8" />
<line x1="214.77" y1="376.89" x2="219.57" y2="376.89" stroke="#bad8de" stroke-width="0.8" />
<line x1="224.94" y1="371.1" x2="224.94" y2="377.2" stroke="#bad8de" stroke-width="0.8" />
<line x1="222.54" y1="377.2" x2="227.34" y2="377.2" stroke="#bad8de" stroke-width="0.8" />
<line x1="235.3" y1="366.48" x2="235.3" y2="371.56" stroke="#bad8de" stroke-width="0.8" />
<line x1="232.9" y1="371.56" x2="237.7" y2="371.56" stroke="#bad8de" stroke-width="0.8" />
<line x1="243.07" y1="370.44" x2="243.07" y2="375.52" stroke="#bad8de" stroke-width="0.8" />
<line x1="240.67" y1="375.52" x2="245.47" y2="375.52" stroke="#bad8de" stroke-width="0.8" />
<line x1="253.43" y1="368.92" x2="253.43" y2="374" stroke="#bad8de" stroke-width="0.8" />
<line x1="251.03" y1="374" x2="255.83" y2="374" stroke="#bad8de" stroke-width="0.8" />
<line x1="54" y1="365.36" x2="54" y2="370.44" stroke="#e1c9e1" stroke-width="0.8" />
<line x1="51.6" y1="370.44" x2="56.4" y2="370.44" stroke="#e1c9e1" stroke-width="0.8" />
<line x1="61.77" y1="361.8" x2="61.77" y2="367.9" stroke="#e1c9e1" stroke-width="0.8" />
<line x1="59.37" y1="367.9" x2="64.17" y2="367.9" stroke="#e1c9e1" stroke-width="0.8" />
<line x1="72.13" y1="355.81" x2="72.13" y2="361.91" stroke="#e1c9e1" stroke-width="0.8" />
<line x1="69.73" y1="361.91" x2="74.53" y2="361.91" stroke="#e1c9e1" stroke-width="0.8" />
<line x1="79.9" y1="360.79" x2="79.9" y2="367.9" stroke="#e1c9e1" stroke-width="0.8" />
<line x1="77.5" y1="367.9" x2="82.3" y2="367.9" stroke="#e1c9e1" stroke-width="0.8" />
<line x1="90.26" y1="363.84" x2="90.26" y2="370.95" stroke="#e1c9e1" stroke-width="0.8" />
<line x1="87.86" y1="370.95" x2="92.66" y2="370.95" stroke="#e1c9e1" stroke-width="0.8" />
<line x1="98.03" y1="360.79" x2="98.03" y2="367.9" stroke="#e1c9e1" stroke-width="0.8" />
<line x1="95.63" y1="367.9" x2="100.43" y2="367.9" stroke="#e1c9e1" stroke-width="0.8" />
<line x1="108.39" y1="363.02" x2="108.39" y2="370.14" stroke="#e1c9e1" stroke-width="0.8" />
<line x1="105.99" y1="370.14" x2="110.79" y2="370.14" stroke="#e1c9e1" stroke-width="0.8" />
<line x1="116.16" y1="362.82" x2="116.16" y2="369.93" stroke="#e1c9e1" stroke-width="0.8" />
<line x1="113.76" y1="369.93" x2="118.56" y2="369.93" stroke="#e1c9e1" stroke-width="0.8" />
<line x1="126.52" y1="360.79" x2="126.52" y2="368.41" stroke="#e1c9e1" stroke-width="0.8" />
<line x1="124.12" y1="368.41" x2="128.92" y2="368.41" stroke="#e1c9e1" stroke-width="0.8" />
<line x1="134.29" y1="360.28" x2="134.29" y2="367.9" stroke="#e1c9e1" stroke-width="0.8" />
<line x1="131.89" y1="367.9" x2="136.69" y2="367.9" stroke="#e1c9e1" stroke-width="0.8" />
<line x1="144.65" y1="358.5" x2="144.65" y2="366.63" stroke="#e1c9e1" stroke-width="0.8" />
<line x1="142.25" y1="366.63" x2="147.05" y2="366.63" stroke="#e1c9e1" stroke-width="0.8" />
<line x1="152.42" y1="357.74" x2="152.42" y2="365.87" stroke="#e1c9e1" stroke-width="0.8" />
<line x1="150.02" y1="365.87" x2="154.82" y2="365.87" stroke="#e1c9e1" stroke-width="0.8" />
<line x1="162.78" y1="362.82" x2="162.78" y2="371.96" stroke="#e1c9e1" stroke-width="0.8" />
<line x1="160.38" y1="371.96" x2="165.18" y2="371.96" stroke="#e1c9e1" stroke-width="0.8" />
<line x1="170.55" y1="354.18" x2="170.55" y2="363.33" stroke="#e1c9e1" stroke-width="0.8" />
<line x1="168.15" y1="363.33" x2="172.95" y2="363.33" stroke="#e1c9e1" stroke-width="0.8" />
<line x1="180.91" y1="359.26" x2="180.91" y2="368.41" stroke="#e1c9e1" stroke-width="0.8" />
<line x1="178.51" y1="368.41" x2="183.31" y2="368.41" stroke="#e1c9e1" stroke-width="0.8" />
<line x1="188.68" y1="355.1" x2="188.68" y2="364.24" stroke="#e1c9e1" stroke-width="0.8" />
<line x1="186.28" y1="364.24" x2="191.08" y2="364.24" stroke="#e1c9e1" stroke-width="0.8" />
<line x1="199.04" y1="350.78" x2="199.04" y2="359.92" stroke="#e1c9e1" stroke-width="0.8" />
<line x1="196.64" y1="359.92" x2="201.44" y2="359.92" stroke="#e1c9e1" stroke-width="0.8" />
<line x1="206.81" y1="354.59" x2="206.81" y2="364.75" stroke="#e1c9e1" stroke-width="0.8" />
<line x1="204.41" y1="364.75" x2="209.21" y2="364.75" stroke="#e1c9e1" stroke-width="0.8" />
<line x1="217.17" y1="353.17" x2="217.17" y2="363.33" stroke="#e1c9e1" stroke-width="0.8" />
<line x1="214.77" y1="363.33" x2="219.57" y2="363.33" stroke="#e1c9e1" stroke-width="0.8" />
<line x1="224.94" y1="349.51" x2="224.94" y2="359.67" stroke="#e1c9e1" stroke-width="0.8" />
<line x1="222.54" y1="359.67" x2="227.34" y2="359.67" stroke="#e1c9e1" stroke-width="0.8" />
<line x1="235.3" y1="347.68" x2="235.3" y2="357.84" stroke="#e1c9e1" stroke-width="0.8" />
<line x1="232.9" y1="357.84" x2="237.7" y2="357.84" stroke="#e1c9e1" stroke-width="0.8" />
<line x1="243.07" y1="348.49" x2="243.07" y2="358.65" stroke="#e1c9e1" stroke-width="0.8" />
<line x1="240.67" y1="358.65" x2="245.47" y2="358.65" stroke="#e1c9e1" stroke-width="0.8" />
<line x1="253.43" y1="347.68" x2="253.43" y2="357.84" stroke="#e1c9e1" stroke-width="0.8" />
<line x1="251.03" y1="357.84" x2="255.83" y2="357.84" stroke="#e1c9e1" stroke-width="0.8" />
<line x1="54" y1="363.84" x2="54" y2="368.92" stroke="#c3c3c3" stroke-width="0.8" />
<line x1="51.6" y1="368.92" x2="56.4" y2="368.92" stroke="#c3c3c3" stroke-width="0.8" />
<line x1="61.77" y1="360.28" x2="61.77" y2="366.38" stroke="#c3c3c3" stroke-width="0.8" />
<line x1="59.37" y1="366.38" x2="64.17" y2="366.38" stroke="#c3c3c3" stroke-width="0.8" />
<line x1="72.13" y1="358.76" x2="72.13" y2="365.87" stroke="#c3c3c3" stroke-width="0.8" />
<line x1="69.73" y1="365.87" x2="74.53" y2="365.87" stroke="#c3c3c3" stroke-width="0.8" />
<line x1="79.9" y1="357.74" x2="79.9" y2="365.36" stroke="#c3c3c3" stroke-width="0.8" />
<line x1="77.5" y1="365.36" x2="82.3" y2="365.36" stroke="#c3c3c3" stroke-width="0.8" />
<line x1="90.26" y1="356.72" x2="90.26" y2="364.85" stroke="#c3c3c3" stroke-width="0.8" />
<line x1="87.86" y1="364.85" x2="92.66" y2="364.85" stroke="#c3c3c3" stroke-width="0.8" />
<line x1="98.03" y1="355.71" x2="98.03" y2="364.85" stroke="#c3c3c3" stroke-width="0.8" />
<line x1="95.63" y1="364.85" x2="100.43" y2="364.85" stroke="#c3c3c3" stroke-width="0.8" />
<line x1="108.39" y1="355.71" x2="108.39" y2="364.85" stroke="#c3c3c3" stroke-width="0.8" />
<line x1="105.99" y1="364.85" x2="110.79" y2="364.85" stroke="#c3c3c3" stroke-width="0.8" />
<line x1="116.16" y1="354.69" x2="116.16" y2="364.85" stroke="#c3c3c3" stroke-width="0.8" />
<line x1="113.76" y1="364.85" x2="118.56" y2="364.85" stroke="#c3c3c3" stroke-width="0.8" />
<line x1="126.52" y1="353.17" x2="126.52" y2="363.33" stroke="#c3c3c3" stroke-width="0.8" />
<line x1="124.12" y1="363.33" x2="128.92" y2="363.33" stroke="#c3c3c3" stroke-width="0.8" />
<line x1="134.29" y1="352.15" x2="134.29" y2="362.31" stroke="#c3c3c3" stroke-width="0.8" />
<line x1="131.89" y1="362.31" x2="136.69" y2="362.31" stroke="#c3c3c3" stroke-width="0.8" />
<line x1="144.65" y1="349.61" x2="144.65" y2="360.79" stroke="#c3c3c3" stroke-width="0.8" />
<line x1="142.25" y1="360.79" x2="147.05" y2="360.79" stroke="#c3c3c3" stroke-width="0.8" />
<line x1="152.42" y1="344.58" x2="152.42" y2="355.76" stroke="#c3c3c3" stroke-width="0.8" />
<line x1="150.02" y1="355.76" x2="154.82" y2="355.76" stroke="#c3c3c3" stroke-width="0.8" />
<line x1="162.78" y1="344.58" x2="162.78" y2="356.77" stroke="#c3c3c3" stroke-width="0.8" />
<line x1="160.38" y1="356.77" x2="165.18" y2="356.77" stroke="#c3c3c3" stroke-width="0.8" />
<line x1="170.55" y1="339.71" x2="170.55" y2="351.9" stroke="#c3c3c3" stroke-width="0.8" />
<line x1="168.15" y1="351.9" x2="172.95" y2="351.9" stroke="#c3c3c3" stroke-width="0.8" />
<line x1="180.91" y1="346.21" x2="180.91" y2="359.42" stroke="#c3c3c3" stroke-width="0.8" />
<line x1="178.51" y1="359.42" x2="183.31" y2="359.42" stroke="#c3c3c3" stroke-width="0.8" />
<line x1="188.68" y1="347.38" x2="188.68" y2="360.58" stroke="#c3c3c3" stroke-width="0.8" />
<line x1="186.28" y1="360.58" x2="191.08" y2="360.58" stroke="#c3c3c3" stroke-width="0.8" />
<line x1="199.04" y1="346.21" x2="199.04" y2="359.42" stroke="#c3c3c3" stroke-width="0.8" />
<line x1="196.64" y1="359.42" x2="201.44" y2="359.42" stroke="#c3c3c3" stroke-width="0.8" />
<line x1="206.81" y1="346.21" x2="206.81" y2="359.42" stroke="#c3c3c3" stroke-width="0.8" />
<line x1="204.41" y1="359.42" x2="209.21" y2="359.42" stroke="#c3c3c3" stroke-width="0.8" />
<line x1="217.17" y1="348.9" x2="217.17" y2="363.12" stroke="#c3c3c3" stroke-width="0.8" />
<line x1="214.77" y1="363.12" x2="219.57" y2="363.12" stroke="#c3c3c3" stroke-width="0.8" />
<line x1="224.94" y1="341.79" x2="224.94" y2="356.01" stroke="#c3c3c3" stroke-width="0.8" />
<line x1="222.54" y1="356.01" x2="227.34" y2="356.01" stroke="#c3c3c3" stroke-width="0.8" />
<line x1="235.3" y1="340.32" x2="235.3" y2="354.54" stroke="#c3c3c3" stroke-width="0.8" />
<line x1="232.9" y1="354.54" x2="237.7" y2="354.54" stroke="#c3c3c3" stroke-width="0.8" />
<line x1="243.07" y1="341.79" x2="243.07" y2="356.01" stroke="#c3c3c3" stroke-width="0.8" />
<line x1="240.67" y1="356.01" x2="245.47" y2="356.01" stroke="#c3c3c3" stroke-width="0.8" />
<line x1="253.43" y1="338.79" x2="253.43" y2="353.02" stroke="#c3c3c3" stroke-width="0.8" />
<line x1="251.03" y1="353.02" x2="255.83" y2="353.02" stroke="#c3c3c3" stroke-width="0.8" />
<line x1="54" y1="363.84" x2="54" y2="368.92" stroke="#b4dbe7" stroke-width="0.8" />
<line x1="51.6" y1="368.92" x2="56.4" y2="368.92" stroke="#b4dbe7" stroke-width="0.8" />
<line x1="61.77" y1="359.26" x2="61.77" y2="365.36" stroke="#b4dbe7" stroke-width="0.8" />
<line x1="59.37" y1="365.36" x2="64.17" y2="365.36" stroke="#b4dbe7" stroke-width="0.8" />
<line x1="72.13" y1="355.2" x2="72.13" y2="362.31" stroke="#b4dbe7" stroke-width="0.8" />
<line x1="69.73" y1="362.31" x2="74.53" y2="362.31" stroke="#b4dbe7" stroke-width="0.8" />
<line x1="79.9" y1="353.68" x2="79.9" y2="361.8" stroke="#b4dbe7" stroke-width="0.8" />
<line x1="77.5" y1="361.8" x2="82.3" y2="361.8" stroke="#b4dbe7" stroke-width="0.8" />
<line x1="90.26" y1="355.2" x2="90.26" y2="364.34" stroke="#b4dbe7" stroke-width="0.8" />
<line x1="87.86" y1="364.34" x2="92.66" y2="364.34" stroke="#b4dbe7" stroke-width="0.8" />
<line x1="98.03" y1="353.68" x2="98.03" y2="362.82" stroke="#b4dbe7" stroke-width="0.8" />
<line x1="95.63" y1="362.82" x2="100.43" y2="362.82" stroke="#b4dbe7" stroke-width="0.8" />
<line x1="108.39" y1="354.69" x2="108.39" y2="364.85" stroke="#b4dbe7" stroke-width="0.8" />
<line x1="105.99" y1="364.85" x2="110.79" y2="364.85" stroke="#b4dbe7" stroke-width="0.8" />
<line x1="116.16" y1="351.64" x2="116.16" y2="362.82" stroke="#b4dbe7" stroke-width="0.8" />
<line x1="113.76" y1="362.82" x2="118.56" y2="362.82" stroke="#b4dbe7" stroke-width="0.8" />
<line x1="126.52" y1="353.17" x2="126.52" y2="365.36" stroke="#b4dbe7" stroke-width="0.8" />
<line x1="124.12" y1="365.36" x2="128.92" y2="365.36" stroke="#b4dbe7" stroke-width="0.8" />
<line x1="134.29" y1="352.3" x2="134.29" y2="365.51" stroke="#b4dbe7" stroke-width="0.8" />
<line x1="131.89" y1="365.51" x2="136.69" y2="365.51" stroke="#b4dbe7" stroke-width="0.8" />
<line x1="144.65" y1="348.6" x2="144.65" y2="362.82" stroke="#b4dbe7" stroke-width="0.8" />
<line x1="142.25" y1="362.82" x2="147.05" y2="362.82" stroke="#b4dbe7" stroke-width="0.8" />
<line x1="152.42" y1="349.21" x2="152.42" y2="363.43" stroke="#b4dbe7" stroke-width="0.8" />
<line x1="150.02" y1="363.43" x2="154.82" y2="363.43" stroke="#b4dbe7" stroke-width="0.8" />
<line x1="162.78" y1="352.3" x2="162.78" y2="367.54" stroke="#b4dbe7" stroke-width="0.8" />
<line x1="160.38" y1="367.54" x2="165.18" y2="367.54" stroke="#b4dbe7" stroke-width="0.8" />
<line x1="170.55" y1="342.8" x2="170.55" y2="359.06" stroke="#b4dbe7" stroke-width="0.8" />
<line x1="168.15" y1="359.06" x2="172.95" y2="359.06" stroke="#b4dbe7" stroke-width="0.8" />
<line x1="180.91" y1="343.01" x2="180.91" y2="358.25" stroke="#b4dbe7" stroke-width="0.8" />
<line x1="178.51" y1="358.25" x2="183.31" y2="358.25" stroke="#b4dbe7" stroke-width="0.8" />
<line x1="188.68" y1="341.48" x2="188.68" y2="356.72" stroke="#b4dbe7" stroke-width="0.8" />
<line x1="186.28" y1="356.72" x2="191.08" y2="356.72" stroke="#b4dbe7" stroke-width="0.8" />
<line x1="199.04" y1="336.61" x2="199.04" y2="351.85" stroke="#b4dbe7" stroke-width="0.8" />
<line x1="196.64" y1="351.85" x2="201.44" y2="351.85" stroke="#b4dbe7" stroke-width="0.8" />
<line x1="206.81" y1="338.18" x2="206.81" y2="353.42" stroke="#b4dbe7" stroke-width="0.8" />
<line x1="204.41" y1="353.42" x2="209.21" y2="353.42" stroke="#b4dbe7" stroke-width="0.8" />
<line x1="217.17" y1="336.61" x2="217.17" y2="353.88" stroke="#b4dbe7" stroke-width="0.8" />
<line x1="214.77" y1="353.88" x2="219.57" y2="353.88" stroke="#b4dbe7" stroke-width="0.8" />
<line x1="224.94" y1="336.2" x2="224.94" y2="353.98" stroke="#b4dbe7" stroke-width="0.8" />
<line x1="222.54" y1="353.98" x2="227.34" y2="353.98" stroke="#b4dbe7" stroke-width="0.8" />
<line x1="235.3" y1="328.48" x2="235.3" y2="349.31" stroke="#b4dbe7" stroke-width="0.8" />
<line x1="232.9" y1="349.31" x2="237.7" y2="349.31" stroke="#b4dbe7" stroke-width="0.8" />
<line x1="243.07" y1="330.82" x2="243.07" y2="348.09" stroke="#b4dbe7" stroke-width="0.8" />
<line x1="240.67" y1="348.09" x2="245.47" y2="348.09" stroke="#b4dbe7" stroke-width="0.8" />
<line x1="253.43" y1="330.82" x2="253.43" y2="352.66" stroke="#b4dbe7" stroke-width="0.8" />
<line x1="251.03" y1="352.66" x2="255.83" y2="352.66" stroke="#b4dbe7" stroke-width="0.8" />
<line x1="54" y1="362.82" x2="54" y2="367.9" stroke="#91c6e4" stroke-width="0.8" />
<line x1="51.6" y1="367.9" x2="56.4" y2="367.9" stroke="#91c6e4" stroke-width="0.8" />
<line x1="61.77" y1="357.99" x2="61.77" y2="365.11" stroke="#91c6e4" stroke-width="0.8" />
<line x1="59.37" y1="365.11" x2="64.17" y2="365.11" stroke="#91c6e4" stroke-width="0.8" />
<line x1="72.13" y1="351.14" x2="72.13" y2="359.26" stroke="#91c6e4" stroke-width="0.8" />
<line x1="69.73" y1="359.26" x2="74.53" y2="359.26" stroke="#91c6e4" stroke-width="0.8" />
<line x1="79.9" y1="351.64" x2="79.9" y2="360.79" stroke="#91c6e4" stroke-width="0.8" />
<line x1="77.5" y1="360.79" x2="82.3" y2="360.79" stroke="#91c6e4" stroke-width="0.8" />
<line x1="90.26" y1="354.18" x2="90.26" y2="364.34" stroke="#91c6e4" stroke-width="0.8" />
<line x1="87.86" y1="364.34" x2="92.66" y2="364.34" stroke="#91c6e4" stroke-width="0.8" />
<line x1="98.03" y1="355" x2="98.03" y2="365.16" stroke="#91c6e4" stroke-width="0.8" />
<line x1="95.63" y1="365.16" x2="100.43" y2="365.16" stroke="#91c6e4" stroke-width="0.8" />
<line x1="108.39" y1="355" x2="108.39" y2="366.17" stroke="#91c6e4" stroke-width="0.8" />
<line x1="105.99" y1="366.17" x2="110.79" y2="366.17" stroke="#91c6e4" stroke-width="0.8" />
<line x1="116.16" y1="353.52" x2="116.16" y2="365.72" stroke="#91c6e4" stroke-width="0.8" />
<line x1="113.76" y1="365.72" x2="118.56" y2="365.72" stroke="#91c6e4" stroke-width="0.8" />
<line x1="126.52" y1="350.12" x2="126.52" y2="363.33" stroke="#91c6e4" stroke-width="0.8" />
<line x1="124.12" y1="363.33" x2="128.92" y2="363.33" stroke="#91c6e4" stroke-width="0.8" />
<line x1="134.29" y1="347.07" x2="134.29" y2="361.3" stroke="#91c6e4" stroke-width="0.8" />
<line x1="131.89" y1="361.3" x2="136.69" y2="361.3" stroke="#91c6e4" stroke-width="0.8" />
<line x1="144.65" y1="339.96" x2="144.65" y2="355.2" stroke="#91c6e4" stroke-width="0.8" />
<line x1="142.25" y1="355.2" x2="147.05" y2="355.2" stroke="#91c6e4" stroke-width="0.8" />
<line x1="152.42" y1="339.96" x2="152.42" y2="355.2" stroke="#91c6e4" stroke-width="0.8" />
<line x1="150.02" y1="355.2" x2="154.82" y2="355.2" stroke="#91c6e4" stroke-width="0.8" />
<line x1="162.78" y1="325.23" x2="162.78" y2="351.64" stroke="#91c6e4" stroke-width="0.8" />
<line x1="160.38" y1="351.64" x2="165.18" y2="351.64" stroke="#91c6e4" stroke-width="0.8" />
<line x1="170.55" y1="324.21" x2="170.55" y2="353.68" stroke="#91c6e4" stroke-width="0.8" />
<line x1="168.15" y1="353.68" x2="172.95" y2="353.68" stroke="#91c6e4" stroke-width="0.8" />
<line x1="180.91" y1="337.72" x2="180.91" y2="358.04" stroke="#91c6e4" stroke-width="0.8" />
<line x1="178.51" y1="358.04" x2="183.31" y2="358.04" stroke="#91c6e4" stroke-width="0.8" />
<line x1="188.68" y1="333.86" x2="188.68" y2="355.2" stroke="#91c6e4" stroke-width="0.8" />
<line x1="186.28" y1="355.2" x2="191.08" y2="355.2" stroke="#91c6e4" stroke-width="0.8" />
<line x1="199.04" y1="324.21" x2="199.04" y2="347.07" stroke="#91c6e4" stroke-width="0.8" />
<line x1="196.64" y1="347.07" x2="201.44" y2="347.07" stroke="#91c6e4" stroke-width="0.8" />
<line x1="54" y1="365.36" x2="54" y2="370.44" stroke="#f5d2ab" stroke-width="0.8" />
<line x1="51.6" y1="370.44" x2="56.4" y2="370.44" stroke="#f5d2ab" stroke-width="0.8" />
<line x1="61.77" y1="357.74" x2="61.77" y2="366.88" stroke="#f5d2ab" stroke-width="0.8" />
<line x1="59.37" y1="366.88" x2="64.17" y2="366.88" stroke="#f5d2ab" stroke-width="0.8" />
<line x1="72.13" y1="352.66" x2="72.13" y2="362.82" stroke="#f5d2ab" stroke-width="0.8" />
<line x1="69.73" y1="362.82" x2="74.53" y2="362.82" stroke="#f5d2ab" stroke-width="0.8" />
<line x1="79.9" y1="351.64" x2="79.9" y2="362.82" stroke="#f5d2ab" stroke-width="0.8" />
<line x1="77.5" y1="362.82" x2="82.3" y2="362.82" stroke="#f5d2ab" stroke-width="0.8" />
<line x1="90.26" y1="349.61" x2="90.26" y2="361.8" stroke="#f5d2ab" stroke-width="0.8" />
<line x1="87.86" y1="361.8" x2="92.66" y2="361.8" stroke="#f5d2ab" stroke-width="0.8" />
<line x1="98.03" y1="351.14" x2="98.03" y2="364.34" stroke="#f5d2ab" stroke-width="0.8" />
<line x1="95.63" y1="364.34" x2="100.43" y2="364.34" stroke="#f5d2ab" stroke-width="0.8" />
<line x1="108.39" y1="350.63" x2="108.39" y2="364.85" stroke="#f5d2ab" stroke-width="0.8" />
<line x1="105.99" y1="364.85" x2="110.79" y2="364.85" stroke="#f5d2ab" stroke-width="0.8" />
<line x1="116.16" y1="345.04" x2="116.16" y2="360.28" stroke="#f5d2ab" stroke-width="0.8" />
<line x1="113.76" y1="360.28" x2="118.56" y2="360.28" stroke="#f5d2ab" stroke-width="0.8" />
<line x1="126.52" y1="336.4" x2="126.52" y2="351.64" stroke="#f5d2ab" stroke-width="0.8" />
<line x1="124.12" y1="351.64" x2="128.92" y2="351.64" stroke="#f5d2ab" stroke-width="0.8" />
<line x1="134.29" y1="333.36" x2="134.29" y2="346.06" stroke="#f5d2ab" stroke-width="0.8" />
<line x1="131.89" y1="346.06" x2="136.69" y2="346.06" stroke="#f5d2ab" stroke-width="0.8" />
<line x1="144.65" y1="328.28" x2="144.65" y2="346.56" stroke="#f5d2ab" stroke-width="0.8" />
<line x1="142.25" y1="346.56" x2="147.05" y2="346.56" stroke="#f5d2ab" stroke-width="0.8" />
<line x1="152.42" y1="328.78" x2="152.42" y2="350.63" stroke="#f5d2ab" stroke-width="0.8" />
<line x1="150.02" y1="350.63" x2="154.82" y2="350.63" stroke="#f5d2ab" stroke-width="0.8" />
<line x1="162.78" y1="322.18" x2="162.78" y2="347.58" stroke="#f5d2ab" stroke-width="0.8" />
<line x1="160.38" y1="347.58" x2="165.18" y2="347.58" stroke="#f5d2ab" stroke-width="0.8" />
<line x1="170.55" y1="320.66" x2="170.55" y2="347.07" stroke="#f5d2ab" stroke-width="0.8" />
<line x1="168.15" y1="347.07" x2="172.95" y2="347.07" stroke="#f5d2ab" stroke-width="0.8" />
<line x1="180.91" y1="316.08" x2="180.91" y2="340.98" stroke="#f5d2ab" stroke-width="0.8" />
<line x1="178.51" y1="340.98" x2="183.31" y2="340.98" stroke="#f5d2ab" stroke-width="0.8" />
<line x1="188.68" y1="313.54" x2="188.68" y2="338.44" stroke="#f5d2ab" stroke-width="0.8" />
<line x1="186.28" y1="338.44" x2="191.08" y2="338.44" stroke="#f5d2ab" stroke-width="0.8" />
<line x1="199.04" y1="306.94" x2="199.04" y2="334.88" stroke="#f5d2ab" stroke-width="0.8" />
<line x1="196.64" y1="334.88" x2="201.44" y2="334.88" stroke="#f5d2ab" stroke-width="0.8" />
<line x1="54" y1="362.82" x2="54" y2="367.9" stroke="#e1bdb7" stroke-width="0.8" />
<line x1="51.6" y1="367.9" x2="56.4" y2="367.9" stroke="#e1bdb7" stroke-width="0.8" />
<line x1="61.77" y1="359.26" x2="61.77" y2="365.36" stroke="#e1bdb7" stroke-width="0.8" />
<line x1="59.37" y1="365.36" x2="64.17" y2="365.36" stroke="#e1bdb7" stroke-width="0.8" />
<line x1="72.13" y1="356.88" x2="72.13" y2="363.99" stroke="#e1bdb7" stroke-width="0.8" />
<line x1="69.73" y1="363.99" x2="74.53" y2="363.99" stroke="#e1bdb7" stroke-width="0.8" />
<line x1="79.9" y1="356.88" x2="79.9" y2="365" stroke="#e1bdb7" stroke-width="0.8" />
<line x1="77.5" y1="365" x2="82.3" y2="365" stroke="#e1bdb7" stroke-width="0.8" />
<line x1="90.26" y1="355.81" x2="90.26" y2="364.95" stroke="#e1bdb7" stroke-width="0.8" />
<line x1="87.86" y1="364.95" x2="92.66" y2="364.95" stroke="#e1bdb7" stroke-width="0.8" />
<line x1="98.03" y1="351.49" x2="98.03" y2="361.65" stroke="#e1bdb7" stroke-width="0.8" />
<line x1="95.63" y1="361.65" x2="100.43" y2="361.65" stroke="#e1bdb7" stroke-width="0.8" />
<line x1="108.39" y1="347.22" x2="108.39" y2="358.4" stroke="#e1bdb7" stroke-width="0.8" />
<line x1="105.99" y1="358.4" x2="110.79" y2="358.4" stroke="#e1bdb7" stroke-width="0.8" />
<line x1="116.16" y1="345.4" x2="116.16" y2="357.59" stroke="#e1bdb7" stroke-width="0.8" />
<line x1="113.76" y1="357.59" x2="118.56" y2="357.59" stroke="#e1bdb7" stroke-width="0.8" />
<line x1="126.52" y1="336.4" x2="126.52" y2="349.61" stroke="#e1bdb7" stroke-width="0.8" />
<line x1="124.12" y1="349.61" x2="128.92" y2="349.61" stroke="#e1bdb7" stroke-width="0.8" />
<line x1="134.29" y1="333.1" x2="134.29" y2="347.33" stroke="#e1bdb7" stroke-width="0.8" />
<line x1="131.89" y1="347.33" x2="136.69" y2="347.33" stroke="#e1bdb7" stroke-width="0.8" />
<line x1="144.65" y1="330" x2="144.65" y2="345.24" stroke="#e1bdb7" stroke-width="0.8" />
<line x1="142.25" y1="345.24" x2="147.05" y2="345.24" stroke="#e1bdb7" stroke-width="0.8" />
<line x1="152.42" y1="328.48" x2="152.42" y2="343.72" stroke="#e1bdb7" stroke-width="0.8" />
<line x1="150.02" y1="343.72" x2="154.82" y2="343.72" stroke="#e1bdb7" stroke-width="0.8" />
<line x1="162.78" y1="315.42" x2="162.78" y2="331.68" stroke="#e1bdb7" stroke-width="0.8" />
<line x1="160.38" y1="331.68" x2="165.18" y2="331.68" stroke="#e1bdb7" stroke-width="0.8" />
<line x1="170.55" y1="320.5" x2="170.55" y2="337.78" stroke="#e1bdb7" stroke-width="0.8" />
<line x1="168.15" y1="337.78" x2="172.95" y2="337.78" stroke="#e1bdb7" stroke-width="0.8" />
<line x1="180.91" y1="315.42" x2="180.91" y2="333.71" stroke="#e1bdb7" stroke-width="0.8" />
<line x1="178.51" y1="333.71" x2="183.31" y2="333.71" stroke="#e1bdb7" stroke-width="0.8" />
<line x1="188.68" y1="313.39" x2="188.68" y2="331.68" stroke="#e1bdb7" stroke-width="0.8" />
<line x1="186.28" y1="331.68" x2="191.08" y2="331.68" stroke="#e1bdb7" stroke-width="0.8" />
<line x1="199.04" y1="308.46" x2="199.04" y2="327.77" stroke="#e1bdb7" stroke-width="0.8" />
<line x1="196.64" y1="327.77" x2="201.44" y2="327.77" stroke="#e1bdb7" stroke-width="0.8" />
<line x1="54" y1="366.88" x2="54" y2="371.96" stroke="#cae2ba" stroke-width="0.8" />
<line x1="51.6" y1="371.96" x2="56.4" y2="371.96" stroke="#cae2ba" stroke-width="0.8" />
<line x1="61.77" y1="360.79" x2="61.77" y2="367.9" stroke="#cae2ba" stroke-width="0.8" />
<line x1="59.37" y1="367.9" x2="64.17" y2="367.9" stroke="#cae2ba" stroke-width="0.8" />
<line x1="72.13" y1="347.68" x2="72.13" y2="355.81" stroke="#cae2ba" stroke-width="0.8" />
<line x1="69.73" y1="355.81" x2="74.53" y2="355.81" stroke="#cae2ba" stroke-width="0.8" />
<line x1="79.9" y1="346.56" x2="79.9" y2="355.71" stroke="#cae2ba" stroke-width="0.8" />
<line x1="77.5" y1="355.71" x2="82.3" y2="355.71" stroke="#cae2ba" stroke-width="0.8" />
<line x1="90.26" y1="336.91" x2="90.26" y2="348.09" stroke="#cae2ba" stroke-width="0.8" />
<line x1="87.86" y1="348.09" x2="92.66" y2="348.09" stroke="#cae2ba" stroke-width="0.8" />
<line x1="98.03" y1="331.48" x2="98.03" y2="343.67" stroke="#cae2ba" stroke-width="0.8" />
<line x1="95.63" y1="343.67" x2="100.43" y2="343.67" stroke="#cae2ba" stroke-width="0.8" />
<line x1="108.39" y1="324.21" x2="108.39" y2="338.44" stroke="#cae2ba" stroke-width="0.8" />
<line x1="105.99" y1="338.44" x2="110.79" y2="338.44" stroke="#cae2ba" stroke-width="0.8" />
<line x1="116.16" y1="320.5" x2="116.16" y2="335.74" stroke="#cae2ba" stroke-width="0.8" />
<line x1="113.76" y1="335.74" x2="118.56" y2="335.74" stroke="#cae2ba" stroke-width="0.8" />
<line x1="126.52" y1="311.21" x2="126.52" y2="331.53" stroke="#cae2ba" stroke-width="0.8" />
<line x1="124.12" y1="331.53" x2="128.92" y2="331.53" stroke="#cae2ba" stroke-width="0.8" />
<line x1="54" y1="362.31" x2="54" y2="366.38" stroke="#8c8c8c" stroke-width="0.8" />
<line x1="51.6" y1="366.38" x2="56.4" y2="366.38" stroke="#8c8c8c" stroke-width="0.8" />
<line x1="61.77" y1="352.3" x2="61.77" y2="361.96" stroke="#8c8c8c" stroke-width="0.8" />
<line x1="59.37" y1="361.96" x2="64.17" y2="361.96" stroke="#8c8c8c" stroke-width="0.8" />
<line x1="72.13" y1="342.3" x2="72.13" y2="352.46" stroke="#8c8c8c" stroke-width="0.8" />
<line x1="69.73" y1="352.46" x2="74.53" y2="352.46" stroke="#8c8c8c" stroke-width="0.8" />
<line x1="79.9" y1="333" x2="79.9" y2="345.7" stroke="#8c8c8c" stroke-width="0.8" />
<line x1="77.5" y1="345.7" x2="82.3" y2="345.7" stroke="#8c8c8c" stroke-width="0.8" />
<line x1="90.26" y1="320" x2="90.26" y2="333.71" stroke="#8c8c8c" stroke-width="0.8" />
<line x1="87.86" y1="333.71" x2="92.66" y2="333.71" stroke="#8c8c8c" stroke-width="0.8" />
<line x1="98.03" y1="312.32" x2="98.03" y2="328.07" stroke="#8c8c8c" stroke-width="0.8" />
<line x1="95.63" y1="328.07" x2="100.43" y2="328.07" stroke="#8c8c8c" stroke-width="0.8" />
<line x1="108.39" y1="304.6" x2="108.39" y2="317.81" stroke="#8c8c8c" stroke-width="0.8" />
<line x1="105.99" y1="317.81" x2="110.79" y2="317.81" stroke="#8c8c8c" stroke-width="0.8" />
<line x1="116.16" y1="296.27" x2="116.16" y2="310.5" stroke="#8c8c8c" stroke-width="0.8" />
<line x1="113.76" y1="310.5" x2="118.56" y2="310.5" stroke="#8c8c8c" stroke-width="0.8" />
<line x1="126.52" y1="280.78" x2="126.52" y2="300.34" stroke="#8c8c8c" stroke-width="0.8" />
<line x1="124.12" y1="300.34" x2="128.92" y2="300.34" stroke="#8c8c8c" stroke-width="0.8" />
<line x1="54" y1="366.88" x2="54" y2="362.82" stroke="#a3cbd3" stroke-width="0.8" />
<line x1="51.6" y1="362.82" x2="56.4" y2="362.82" stroke="#a3cbd3" stroke-width="0.8" />
<line x1="61.77" y1="363.84" x2="61.77" y2="358.76" stroke="#a3cbd3" stroke-width="0.8" />
<line x1="59.37" y1="358.76" x2="64.17" y2="358.76" stroke="#a3cbd3" stroke-width="0.8" />
<line x1="72.13" y1="362.82" x2="72.13" y2="357.74" stroke="#a3cbd3" stroke-width="0.8" />
<line x1="69.73" y1="357.74" x2="74.53" y2="357.74" stroke="#a3cbd3" stroke-width="0.8" />
<line x1="79.9" y1="363.84" x2="79.9" y2="358.76" stroke="#a3cbd3" stroke-width="0.8" />
<line x1="77.5" y1="358.76" x2="82.3" y2="358.76" stroke="#a3cbd3" stroke-width="0.8" />
<line x1="90.26" y1="364.34" x2="90.26" y2="359.26" stroke="#a3cbd3" stroke-width="0.8" />
<line x1="87.86" y1="359.26" x2="92.66" y2="359.26" stroke="#a3cbd3" stroke-width="0.8" />
<line x1="98.03" y1="364.85" x2="98.03" y2="359.77" stroke="#a3cbd3" stroke-width="0.8" />
<line x1="95.63" y1="359.77" x2="100.43" y2="359.77" stroke="#a3cbd3" stroke-width="0.8" />
<line x1="108.39" y1="366.17" x2="108.39" y2="361.09" stroke="#a3cbd3" stroke-width="0.8" />
<line x1="105.99" y1="361.09" x2="110.79" y2="361.09" stroke="#a3cbd3" stroke-width="0.8" />
<line x1="116.16" y1="367.19" x2="116.16" y2="362.11" stroke="#a3cbd3" stroke-width="0.8" />
<line x1="113.76" y1="362.11" x2="118.56" y2="362.11" stroke="#a3cbd3" stroke-width="0.8" />
<line x1="126.52" y1="364.6" x2="126.52" y2="359.52" stroke="#a3cbd3" stroke-width="0.8" />
<line x1="124.12" y1="359.52" x2="128.92" y2="359.52" stroke="#a3cbd3" stroke-width="0.8" />
<line x1="134.29" y1="369.22" x2="134.29" y2="364.14" stroke="#a3cbd3" stroke-width="0.8" />
<line x1="131.89" y1="364.14" x2="136.69" y2="364.14" stroke="#a3cbd3" stroke-width="0.8" />
<line x1="144.65" y1="369.53" x2="144.65" y2="364.45" stroke="#a3cbd3" stroke-width="0.8" />
<line x1="142.25" y1="364.45" x2="147.05" y2="364.45" stroke="#a3cbd3" stroke-width="0.8" />
<line x1="152.42" y1="370.8" x2="152.42" y2="365.72" stroke="#a3cbd3" stroke-width="0.8" />
<line x1="150.02" y1="365.72" x2="154.82" y2="365.72" stroke="#a3cbd3" stroke-width="0.8" />
<line x1="162.78" y1="366.88" x2="162.78" y2="361.8" stroke="#a3cbd3" stroke-width="0.8" />
<line x1="160.38" y1="361.8" x2="165.18" y2="361.8" stroke="#a3cbd3" stroke-width="0.8" />
<line x1="170.55" y1="364.85" x2="170.55" y2="359.77" stroke="#a3cbd3" stroke-width="0.8" />
<line x1="168.15" y1="359.77" x2="172.95" y2="359.77" stroke="#a3cbd3" stroke-width="0.8" />
<line x1="180.91" y1="370.49" x2="180.91" y2="364.39" stroke="#a3cbd3" stroke-width="0.8" />
<line x1="178.51" y1="364.39" x2="183.31" y2="364.39" stroke="#a3cbd3" stroke-width="0.8" />
<line x1="188.68" y1="372.98" x2="188.68" y2="366.88" stroke="#a3cbd3" stroke-width="0.8" />
<line x1="186.28" y1="366.88" x2="191.08" y2="366.88" stroke="#a3cbd3" stroke-width="0.8" />
<line x1="199.04" y1="371.46" x2="199.04" y2="365.36" stroke="#a3cbd3" stroke-width="0.8" />
<line x1="196.64" y1="365.36" x2="201.44" y2="365.36" stroke="#a3cbd3" stroke-width="0.8" />
<line x1="206.81" y1="371.96" x2="206.81" y2="365.87" stroke="#a3cbd3" stroke-width="0.8" />
<line x1="204.41" y1="365.87" x2="209.21" y2="365.87" stroke="#a3cbd3" stroke-width="0.8" />
<line x1="217.17" y1="370.8" x2="217.17" y2="364.7" stroke="#a3cbd3" stroke-width="0.8" />
<line x1="214.77" y1="364.7" x2="219.57" y2="364.7" stroke="#a3cbd3" stroke-width="0.8" />
<line x1="224.94" y1="371.1" x2="224.94" y2="365" stroke="#a3cbd3" stroke-width="0.8" />
<line x1="222.54" y1="365" x2="227.34" y2="365" stroke="#a3cbd3" stroke-width="0.8" />
<line x1="235.3" y1="366.48" x2="235.3" y2="361.4" stroke="#a3cbd3" stroke-width="0.8" />
<line x1="232.9" y1="361.4" x2="237.7" y2="361.4" stroke="#a3cbd3" stroke-width="0.8" />
<line x1="243.07" y1="370.44" x2="243.07" y2="365.36" stroke="#a3cbd3" stroke-width="0.8" />
<line x1="240.67" y1="365.36" x2="245.47" y2="365.36" stroke="#a3cbd3" stroke-width="0.8" />
<line x1="253.43" y1="368.92" x2="253.43" y2="363.84" stroke="#a3cbd3" stroke-width="0.8" />
<line x1="251.03" y1="363.84" x2="255.83" y2="363.84" stroke="#a3cbd3" stroke-width="0.8" />
<line x1="54" y1="365.36" x2="54" y2="360.28" stroke="#d8b8d8" stroke-width="0.8" />
<line x1="51.6" y1="360.28" x2="56.4" y2="360.28" stroke="#d8b8d8" stroke-width="0.8" />
<line x1="61.77" y1="361.8" x2="61.77" y2="355.71" stroke="#d8b8d8" stroke-width="0.8" />
<line x1="59.37" y1="355.71" x2="64.17" y2="355.71" stroke="#d8b8d8" stroke-width="0.8" />
<line x1="72.13" y1="355.81" x2="72.13" y2="349.71" stroke="#d8b8d8" stroke-width="0.8" />
<line x1="69.73" y1="349.71" x2="74.53" y2="349.71" stroke="#d8b8d8" stroke-width="0.8" />
<line x1="79.9" y1="360.79" x2="79.9" y2="353.68" stroke="#d8b8d8" stroke-width="0.8" />
<line x1="77.5" y1="353.68" x2="82.3" y2="353.68" stroke="#d8b8d8" stroke-width="0.8" />
<line x1="90.26" y1="363.84" x2="90.26" y2="356.72" stroke="#d8b8d8" stroke-width="0.8" />
<line x1="87.86" y1="356.72" x2="92.66" y2="356.72" stroke="#d8b8d8" stroke-width="0.8" />
<line x1="98.03" y1="360.79" x2="98.03" y2="353.68" stroke="#d8b8d8" stroke-width="0.8" />
<line x1="95.63" y1="353.68" x2="100.43" y2="353.68" stroke="#d8b8d8" stroke-width="0.8" />
<line x1="108.39" y1="363.02" x2="108.39" y2="355.91" stroke="#d8b8d8" stroke-width="0.8" />
<line x1="105.99" y1="355.91" x2="110.79" y2="355.91" stroke="#d8b8d8" stroke-width="0.8" />
<line x1="116.16" y1="362.82" x2="116.16" y2="355.71" stroke="#d8b8d8" stroke-width="0.8" />
<line x1="113.76" y1="355.71" x2="118.56" y2="355.71" stroke="#d8b8d8" stroke-width="0.8" />
<line x1="126.52" y1="360.79" x2="126.52" y2="353.17" stroke="#d8b8d8" stroke-width="0.8" />
<line x1="124.12" y1="353.17" x2="128.92" y2="353.17" stroke="#d8b8d8" stroke-width="0.8" />
<line x1="134.29" y1="360.28" x2="134.29" y2="352.66" stroke="#d8b8d8" stroke-width="0.8" />
<line x1="131.89" y1="352.66" x2="136.69" y2="352.66" stroke="#d8b8d8" stroke-width="0.8" />
<line x1="144.65" y1="358.5" x2="144.65" y2="350.37" stroke="#d8b8d8" stroke-width="0.8" />
<line x1="142.25" y1="350.37" x2="147.05" y2="350.37" stroke="#d8b8d8" stroke-width="0.8" />
<line x1="152.42" y1="357.74" x2="152.42" y2="349.61" stroke="#d8b8d8" stroke-width="0.8" />
<line x1="150.02" y1="349.61" x2="154.82" y2="349.61" stroke="#d8b8d8" stroke-width="0.8" />
<line x1="162.78" y1="362.82" x2="162.78" y2="353.68" stroke="#d8b8d8" stroke-width="0.8" />
<line x1="160.38" y1="353.68" x2="165.18" y2="353.68" stroke="#d8b8d8" stroke-width="0.8" />
<line x1="170.55" y1="354.18" x2="170.55" y2="345.04" stroke="#d8b8d8" stroke-width="0.8" />
<line x1="168.15" y1="345.04" x2="172.95" y2="345.04" stroke="#d8b8d8" stroke-width="0.8" />
<line x1="180.91" y1="359.26" x2="180.91" y2="350.12" stroke="#d8b8d8" stroke-width="0.8" />
<line x1="178.51" y1="350.12" x2="183.31" y2="350.12" stroke="#d8b8d8" stroke-width="0.8" />
<line x1="188.68" y1="355.1" x2="188.68" y2="345.95" stroke="#d8b8d8" stroke-width="0.8" />
<line x1="186.28" y1="345.95" x2="191.08" y2="345.95" stroke="#d8b8d8" stroke-width="0.8" />
<line x1="199.04" y1="350.78" x2="199.04" y2="341.64" stroke="#d8b8d8" stroke-width="0.8" />
<line x1="196.64" y1="341.64" x2="201.44" y2="341.64" stroke="#d8b8d8" stroke-width="0.8" />
<line x1="206.81" y1="354.59" x2="206.81" y2="344.43" stroke="#d8b8d8" stroke-width="0.8" />
<line x1="204.41" y1="344.43" x2="209.21" y2="344.43" stroke="#d8b8d8" stroke-width="0.8" />
<line x1="217.17" y1="353.17" x2="217.17" y2="343.01" stroke="#d8b8d8" stroke-width="0.8" />
<line x1="214.77" y1="343.01" x2="219.57" y2="343.01" stroke="#d8b8d8" stroke-width="0.8" />
<line x1="224.94" y1="349.51" x2="224.94" y2="339.35" stroke="#d8b8d8" stroke-width="0.8" />
<line x1="222.54" y1="339.35" x2="227.34" y2="339.35" stroke="#d8b8d8" stroke-width="0.8" />
<line x1="235.3" y1="347.68" x2="235.3" y2="337.52" stroke="#d8b8d8" stroke-width="0.8" />
<line x1="232.9" y1="337.52" x2="237.7" y2="337.52" stroke="#d8b8d8" stroke-width="0.8" />
<line x1="243.07" y1="348.49" x2="243.07" y2="338.33" stroke="#d8b8d8" stroke-width="0.8" />
<line x1="240.67" y1="338.33" x2="245.47" y2="338.33" stroke="#d8b8d8" stroke-width="0.8" />
<line x1="253.43" y1="347.68" x2="253.43" y2="337.52" stroke="#d8b8d8" stroke-width="0.8" />
<line x1="251.03" y1="337.52" x2="255.83" y2="337.52" stroke="#d8b8d8" stroke-width="0.8" />
<line x1="54" y1="363.84" x2="54" y2="358.76" stroke="#b0b0b0" stroke-width="0.8" />
<line x1="51.6" y1="358.76" x2="56.4" y2="358.76" stroke="#b0b0b0" stroke-width="0.8" />
<line x1="61.77" y1="360.28" x2="61.77" y2="354.18" stroke="#b0b0b0" stroke-width="0.8" />
<line x1="59.37" y1="354.18" x2="64.17" y2="354.18" stroke="#b0b0b0" stroke-width="0.8" />
<line x1="72.13" y1="358.76" x2="72.13" y2="351.64" stroke="#b0b0b0" stroke-width="0.8" />
<line x1="69.73" y1="351.64" x2="74.53" y2="351.64" stroke="#b0b0b0" stroke-width="0.8" />
<line x1="79.9" y1="357.74" x2="79.9" y2="350.12" stroke="#b0b0b0" stroke-width="0.8" />
<line x1="77.5" y1="350.12" x2="82.3" y2="350.12" stroke="#b0b0b0" stroke-width="0.8" />
<line x1="90.26" y1="356.72" x2="90.26" y2="348.6" stroke="#b0b0b0" stroke-width="0.8" />
<line x1="87.86" y1="348.6" x2="92.66" y2="348.6" stroke="#b0b0b0" stroke-width="0.8" />
<line x1="98.03" y1="355.71" x2="98.03" y2="346.56" stroke="#b0b0b0" stroke-width="0.8" />
<line x1="95.63" y1="346.56" x2="100.43" y2="346.56" stroke="#b0b0b0" stroke-width="0.8" />
<line x1="108.39" y1="355.71" x2="108.39" y2="346.56" stroke="#b0b0b0" stroke-width="0.8" />
<line x1="105.99" y1="346.56" x2="110.79" y2="346.56" stroke="#b0b0b0" stroke-width="0.8" />
<line x1="116.16" y1="354.69" x2="116.16" y2="344.53" stroke="#b0b0b0" stroke-width="0.8" />
<line x1="113.76" y1="344.53" x2="118.56" y2="344.53" stroke="#b0b0b0" stroke-width="0.8" />
<line x1="126.52" y1="353.17" x2="126.52" y2="343.01" stroke="#b0b0b0" stroke-width="0.8" />
<line x1="124.12" y1="343.01" x2="128.92" y2="343.01" stroke="#b0b0b0" stroke-width="0.8" />
<line x1="134.29" y1="352.15" x2="134.29" y2="341.99" stroke="#b0b0b0" stroke-width="0.8" />
<line x1="131.89" y1="341.99" x2="136.69" y2="341.99" stroke="#b0b0b0" stroke-width="0.8" />
<line x1="144.65" y1="349.61" x2="144.65" y2="338.44" stroke="#b0b0b0" stroke-width="0.8" />
<line x1="142.25" y1="338.44" x2="147.05" y2="338.44" stroke="#b0b0b0" stroke-width="0.8" />
<line x1="152.42" y1="344.58" x2="152.42" y2="333.41" stroke="#b0b0b0" stroke-width="0.8" />
<line x1="150.02" y1="333.41" x2="154.82" y2="333.41" stroke="#b0b0b0" stroke-width="0.8" />
<line x1="162.78" y1="344.58" x2="162.78" y2="332.39" stroke="#b0b0b0" stroke-width="0.8" />
<line x1="160.38" y1="332.39" x2="165.18" y2="332.39" stroke="#b0b0b0" stroke-width="0.8" />
<line x1="170.55" y1="339.71" x2="170.55" y2="327.51" stroke="#b0b0b0" stroke-width="0.8" />
<line x1="168.15" y1="327.51" x2="172.95" y2="327.51" stroke="#b0b0b0" stroke-width="0.8" />
<line x1="180.91" y1="346.21" x2="180.91" y2="333" stroke="#b0b0b0" stroke-width="0.8" />
<line x1="178.51" y1="333" x2="183.31" y2="333" stroke="#b0b0b0" stroke-width="0.8" />
<line x1="188.68" y1="347.38" x2="188.68" y2="334.17" stroke="#b0b0b0" stroke-width="0.8" />
<line x1="186.28" y1="334.17" x2="191.08" y2="334.17" stroke="#b0b0b0" stroke-width="0.8" />
<line x1="199.04" y1="346.21" x2="199.04" y2="333" stroke="#b0b0b0" stroke-width="0.8" />
<line x1="196.64" y1="333" x2="201.44" y2="333" stroke="#b0b0b0" stroke-width="0.8" />
<line x1="206.81" y1="346.21" x2="206.81" y2="333" stroke="#b0b0b0" stroke-width="0.8" />
<line x1="204.41" y1="333" x2="209.21" y2="333" stroke="#b0b0b0" stroke-width="0.8" />
<line x1="217.17" y1="348.9" x2="217.17" y2="334.68" stroke="#b0b0b0" stroke-width="0.8" />
<line x1="214.77" y1="334.68" x2="219.57" y2="334.68" stroke="#b0b0b0" stroke-width="0.8" />
<line x1="224.94" y1="341.79" x2="224.94" y2="327.56" stroke="#b0b0b0" stroke-width="0.8" />
<line x1="222.54" y1="327.56" x2="227.34" y2="327.56" stroke="#b0b0b0" stroke-width="0.8" />
<line x1="235.3" y1="340.32" x2="235.3" y2="326.09" stroke="#b0b0b0" stroke-width="0.8" />
<line x1="232.9" y1="326.09" x2="237.7" y2="326.09" stroke="#b0b0b0" stroke-width="0.8" />
<line x1="243.07" y1="341.79" x2="243.07" y2="327.56" stroke="#b0b0b0" stroke-width="0.8" />
<line x1="240.67" y1="327.56" x2="245.47" y2="327.56" stroke="#b0b0b0" stroke-width="0.8" />
<line x1="253.43" y1="338.79" x2="253.43" y2="324.57" stroke="#b0b0b0" stroke-width="0.8" />
<line x1="251.03" y1="324.57" x2="255.83" y2="324.57" stroke="#b0b0b0" stroke-width="0.8" />
<line x1="54" y1="363.84" x2="54" y2="358.76" stroke="#9ccfe0" stroke-width="0.8" />
<line x1="51.6" y1="358.76" x2="56.4" y2="358.76" stroke="#9ccfe0" stroke-width="0.8" />
<line x1="61.77" y1="359.26" x2="61.77" y2="353.17" stroke="#9ccfe0" stroke-width="0.8" />
<line x1="59.37" y1="353.17" x2="64.17" y2="353.17" stroke="#9ccfe0" stroke-width="0.8" />
<line x1="72.13" y1="355.2" x2="72.13" y2="348.09" stroke="#9ccfe0" stroke-width="0.8" />
<line x1="69.73" y1="348.09" x2="74.53" y2="348.09" stroke="#9ccfe0" stroke-width="0.8" />
<line x1="79.9" y1="353.68" x2="79.9" y2="345.55" stroke="#9ccfe0" stroke-width="0.8" />
<line x1="77.5" y1="345.55" x2="82.3" y2="345.55" stroke="#9ccfe0" stroke-width="0.8" />
<line x1="90.26" y1="355.2" x2="90.26" y2="346.06" stroke="#9ccfe0" stroke-width="0.8" />
<line x1="87.86" y1="346.06" x2="92.66" y2="346.06" stroke="#9ccfe0" stroke-width="0.8" />
<line x1="98.03" y1="353.68" x2="98.03" y2="344.53" stroke="#9ccfe0" stroke-width="0.8" />
<line x1="95.63" y1="344.53" x2="100.43" y2="344.53" stroke="#9ccfe0" stroke-width="0.8" />
<line x1="108.39" y1="354.69" x2="108.39" y2="344.53" stroke="#9ccfe0" stroke-width="0.8" />
<line x1="105.99" y1="344.53" x2="110.79" y2="344.53" stroke="#9ccfe0" stroke-width="0.8" />
<line x1="116.16" y1="351.64" x2="116.16" y2="340.47" stroke="#9ccfe0" stroke-width="0.8" />
<line x1="113.76" y1="340.47" x2="118.56" y2="340.47" stroke="#9ccfe0" stroke-width="0.8" />
<line x1="126.52" y1="353.17" x2="126.52" y2="340.98" stroke="#9ccfe0" stroke-width="0.8" />
<line x1="124.12" y1="340.98" x2="128.92" y2="340.98" stroke="#9ccfe0" stroke-width="0.8" />
<line x1="134.29" y1="352.3" x2="134.29" y2="339.1" stroke="#9ccfe0" stroke-width="0.8" />
<line x1="131.89" y1="339.1" x2="136.69" y2="339.1" stroke="#9ccfe0" stroke-width="0.8" />
<line x1="144.65" y1="348.6" x2="144.65" y2="334.37" stroke="#9ccfe0" stroke-width="0.8" />
<line x1="142.25" y1="334.37" x2="147.05" y2="334.37" stroke="#9ccfe0" stroke-width="0.8" />
<line x1="152.42" y1="349.21" x2="152.42" y2="334.98" stroke="#9ccfe0" stroke-width="0.8" />
<line x1="150.02" y1="334.98" x2="154.82" y2="334.98" stroke="#9ccfe0" stroke-width="0.8" />
<line x1="162.78" y1="352.3" x2="162.78" y2="337.06" stroke="#9ccfe0" stroke-width="0.8" />
<line x1="160.38" y1="337.06" x2="165.18" y2="337.06" stroke="#9ccfe0" stroke-width="0.8" />
<line x1="170.55" y1="342.8" x2="170.55" y2="326.55" stroke="#9ccfe0" stroke-width="0.8" />
<line x1="168.15" y1="326.55" x2="172.95" y2="326.55" stroke="#9ccfe0" stroke-width="0.8" />
<line x1="180.91" y1="343.01" x2="180.91" y2="327.77" stroke="#9ccfe0" stroke-width="0.8" />
<line x1="178.51" y1="327.77" x2="183.31" y2="327.77" stroke="#9ccfe0" stroke-width="0.8" />
<line x1="188.68" y1="341.48" x2="188.68" y2="326.24" stroke="#9ccfe0" stroke-width="0.8" />
<line x1="186.28" y1="326.24" x2="191.08" y2="326.24" stroke="#9ccfe0" stroke-width="0.8" />
<line x1="199.04" y1="336.61" x2="199.04" y2="321.37" stroke="#9ccfe0" stroke-width="0.8" />
<line x1="196.64" y1="321.37" x2="201.44" y2="321.37" stroke="#9ccfe0" stroke-width="0.8" />
<line x1="206.81" y1="338.18" x2="206.81" y2="322.94" stroke="#9ccfe0" stroke-width="0.8" />
<line x1="204.41" y1="322.94" x2="209.21" y2="322.94" stroke="#9ccfe0" stroke-width="0.8" />
<line x1="217.17" y1="336.61" x2="217.17" y2="319.34" stroke="#9ccfe0" stroke-width="0.8" />
<line x1="214.77" y1="319.34" x2="219.57" y2="319.34" stroke="#9ccfe0" stroke-width="0.8" />
<line x1="224.94" y1="336.2" x2="224.94" y2="318.42" stroke="#9ccfe0" stroke-width="0.8" />
<line x1="222.54" y1="318.42" x2="227.34" y2="318.42" stroke="#9ccfe0" stroke-width="0.8" />
<line x1="235.3" y1="328.48" x2="235.3" y2="307.65" stroke="#9ccfe0" stroke-width="0.8" />
<line x1="232.9" y1="307.65" x2="237.7" y2="307.65" stroke="#9ccfe0" stroke-width="0.8" />
<line x1="243.07" y1="330.82" x2="243.07" y2="313.54" stroke="#9ccfe0" stroke-width="0.8" />
<line x1="240.67" y1="313.54" x2="245.47" y2="313.54" stroke="#9ccfe0" stroke-width="0.8" />
<line x1="253.43" y1="330.82" x2="253.43" y2="308.97" stroke="#9ccfe0" stroke-width="0.8" />
<line x1="251.03" y1="308.97" x2="255.83" y2="308.97" stroke="#9ccfe0" stroke-width="0.8" />
<line x1="54" y1="362.82" x2="54" y2="357.74" stroke="#6db3dc" stroke-width="0.8" />
<line x1="51.6" y1="357.74" x2="56.4" y2="357.74" stroke="#6db3dc" stroke-width="0.8" />
<line x1="61.77" y1="357.99" x2="61.77" y2="350.88" stroke="#6db3dc" stroke-width="0.8" />
<line x1="59.37" y1="350.88" x2="64.17" y2="350.88" stroke="#6db3dc" stroke-width="0.8" />
<line x1="72.13" y1="351.14" x2="72.13" y2="343.01" stroke="#6db3dc" stroke-width="0.8" />
<line x1="69.73" y1="343.01" x2="74.53" y2="343.01" stroke="#6db3dc" stroke-width="0.8" />
<line x1="79.9" y1="351.64" x2="79.9" y2="342.5" stroke="#6db3dc" stroke-width="0.8" />
<line x1="77.5" y1="342.5" x2="82.3" y2="342.5" stroke="#6db3dc" stroke-width="0.8" />
<line x1="90.26" y1="354.18" x2="90.26" y2="344.02" stroke="#6db3dc" stroke-width="0.8" />
<line x1="87.86" y1="344.02" x2="92.66" y2="344.02" stroke="#6db3dc" stroke-width="0.8" />
<line x1="98.03" y1="355" x2="98.03" y2="344.84" stroke="#6db3dc" stroke-width="0.8" />
<line x1="95.63" y1="344.84" x2="100.43" y2="344.84" stroke="#6db3dc" stroke-width="0.8" />
<line x1="108.39" y1="355" x2="108.39" y2="343.82" stroke="#6db3dc" stroke-width="0.8" />
<line x1="105.99" y1="343.82" x2="110.79" y2="343.82" stroke="#6db3dc" stroke-width="0.8" />
<line x1="116.16" y1="353.52" x2="116.16" y2="341.33" stroke="#6db3dc" stroke-width="0.8" />
<line x1="113.76" y1="341.33" x2="118.56" y2="341.33" stroke="#6db3dc" stroke-width="0.8" />
<line x1="126.52" y1="350.12" x2="126.52" y2="336.91" stroke="#6db3dc" stroke-width="0.8" />
<line x1="124.12" y1="336.91" x2="128.92" y2="336.91" stroke="#6db3dc" stroke-width="0.8" />
<line x1="134.29" y1="347.07" x2="134.29" y2="332.85" stroke="#6db3dc" stroke-width="0.8" />
<line x1="131.89" y1="332.85" x2="136.69" y2="332.85" stroke="#6db3dc" stroke-width="0.8" />
<line x1="144.65" y1="339.96" x2="144.65" y2="324.72" stroke="#6db3dc" stroke-width="0.8" />
<line x1="142.25" y1="324.72" x2="147.05" y2="324.72" stroke="#6db3dc" stroke-width="0.8" />
<line x1="152.42" y1="339.96" x2="152.42" y2="324.72" stroke="#6db3dc" stroke-width="0.8" />
<line x1="150.02" y1="324.72" x2="154.82" y2="324.72" stroke="#6db3dc" stroke-width="0.8" />
<line x1="162.78" y1="325.23" x2="162.78" y2="298.81" stroke="#6db3dc" stroke-width="0.8" />
<line x1="160.38" y1="298.81" x2="165.18" y2="298.81" stroke="#6db3dc" stroke-width="0.8" />
<line x1="170.55" y1="324.21" x2="170.55" y2="294.75" stroke="#6db3dc" stroke-width="0.8" />
<line x1="168.15" y1="294.75" x2="172.95" y2="294.75" stroke="#6db3dc" stroke-width="0.8" />
<line x1="180.91" y1="337.72" x2="180.91" y2="317.4" stroke="#6db3dc" stroke-width="0.8" />
<line x1="178.51" y1="317.4" x2="183.31" y2="317.4" stroke="#6db3dc" stroke-width="0.8" />
<line x1="188.68" y1="333.86" x2="188.68" y2="312.53" stroke="#6db3dc" stroke-width="0.8" />
<line x1="186.28" y1="312.53" x2="191.08" y2="312.53" stroke="#6db3dc" stroke-width="0.8" />
<line x1="199.04" y1="324.21" x2="199.04" y2="301.35" stroke="#6db3dc" stroke-width="0.8" />
<line x1="196.64" y1="301.35" x2="201.44" y2="301.35" stroke="#6db3dc" stroke-width="0.8" />
<line x1="54" y1="365.36" x2="54" y2="360.28" stroke="#f2c48f" stroke-width="0.8" />
<line x1="51.6" y1="360.28" x2="56.4" y2="360.28" stroke="#f2c48f" stroke-width="0.8" />
<line x1="61.77" y1="357.74" x2="61.77" y2="348.6" stroke="#f2c48f" stroke-width="0.8" />
<line x1="59.37" y1="348.6" x2="64.17" y2="348.6" stroke="#f2c48f" stroke-width="0.8" />
<line x1="72.13" y1="352.66" x2="72.13" y2="342.5" stroke="#f2c48f" stroke-width="0.8" />
<line x1="69.73" y1="342.5" x2="74.53" y2="342.5" stroke="#f2c48f" stroke-width="0.8" />
<line x1="79.9" y1="351.64" x2="79.9" y2="340.47" stroke="#f2c48f" stroke-width="0.8" />
<line x1="77.5" y1="340.47" x2="82.3" y2="340.47" stroke="#f2c48f" stroke-width="0.8" />
<line x1="90.26" y1="349.61" x2="90.26" y2="337.42" stroke="#f2c48f" stroke-width="0.8" />
<line x1="87.86" y1="337.42" x2="92.66" y2="337.42" stroke="#f2c48f" stroke-width="0.8" />
<line x1="98.03" y1="351.14" x2="98.03" y2="337.93" stroke="#f2c48f" stroke-width="0.8" />
<line x1="95.63" y1="337.93" x2="100.43" y2="337.93" stroke="#f2c48f" stroke-width="0.8" />
<line x1="108.39" y1="350.63" x2="108.39" y2="336.4" stroke="#f2c48f" stroke-width="0.8" />
<line x1="105.99" y1="336.4" x2="110.79" y2="336.4" stroke="#f2c48f" stroke-width="0.8" />
<line x1="116.16" y1="345.04" x2="116.16" y2="329.8" stroke="#f2c48f" stroke-width="0.8" />
<line x1="113.76" y1="329.8" x2="118.56" y2="329.8" stroke="#f2c48f" stroke-width="0.8" />
<line x1="126.52" y1="336.4" x2="126.52" y2="321.16" stroke="#f2c48f" stroke-width="0.8" />
<line x1="124.12" y1="321.16" x2="128.92" y2="321.16" stroke="#f2c48f" stroke-width="0.8" />
<line x1="134.29" y1="333.36" x2="134.29" y2="320.66" stroke="#f2c48f" stroke-width="0.8" />
<line x1="131.89" y1="320.66" x2="136.69" y2="320.66" stroke="#f2c48f" stroke-width="0.8" />
<line x1="144.65" y1="328.28" x2="144.65" y2="309.99" stroke="#f2c48f" stroke-width="0.8" />
<line x1="142.25" y1="309.99" x2="147.05" y2="309.99" stroke="#f2c48f" stroke-width="0.8" />
<line x1="152.42" y1="328.78" x2="152.42" y2="306.94" stroke="#f2c48f" stroke-width="0.8" />
<line x1="150.02" y1="306.94" x2="154.82" y2="306.94" stroke="#f2c48f" stroke-width="0.8" />
<line x1="162.78" y1="322.18" x2="162.78" y2="296.78" stroke="#f2c48f" stroke-width="0.8" />
<line x1="160.38" y1="296.78" x2="165.18" y2="296.78" stroke="#f2c48f" stroke-width="0.8" />
<line x1="170.55" y1="320.66" x2="170.55" y2="294.24" stroke="#f2c48f" stroke-width="0.8" />
<line x1="168.15" y1="294.24" x2="172.95" y2="294.24" stroke="#f2c48f" stroke-width="0.8" />
<line x1="180.91" y1="316.08" x2="180.91" y2="291.19" stroke="#f2c48f" stroke-width="0.8" />
<line x1="178.51" y1="291.19" x2="183.31" y2="291.19" stroke="#f2c48f" stroke-width="0.8" />
<line x1="188.68" y1="313.54" x2="188.68" y2="288.65" stroke="#f2c48f" stroke-width="0.8" />
<line x1="186.28" y1="288.65" x2="191.08" y2="288.65" stroke="#f2c48f" stroke-width="0.8" />
<line x1="199.04" y1="306.94" x2="199.04" y2="279" stroke="#f2c48f" stroke-width="0.8" />
<line x1="196.64" y1="279" x2="201.44" y2="279" stroke="#f2c48f" stroke-width="0.8" />
<line x1="54" y1="362.82" x2="54" y2="357.74" stroke="#d8a8a0" stroke-width="0.8" />
<line x1="51.6" y1="357.74" x2="56.4" y2="357.74" stroke="#d8a8a0" stroke-width="0.8" />
<line x1="61.77" y1="359.26" x2="61.77" y2="353.17" stroke="#d8a8a0" stroke-width="0.8" />
<line x1="59.37" y1="353.17" x2="64.17" y2="353.17" stroke="#d8a8a0" stroke-width="0.8" />
<line x1="72.13" y1="356.88" x2="72.13" y2="349.76" stroke="#d8a8a0" stroke-width="0.8" />
<line x1="69.73" y1="349.76" x2="74.53" y2="349.76" stroke="#d8a8a0" stroke-width="0.8" />
<line x1="79.9" y1="356.88" x2="79.9" y2="348.75" stroke="#d8a8a0" stroke-width="0.8" />
<line x1="77.5" y1="348.75" x2="82.3" y2="348.75" stroke="#d8a8a0" stroke-width="0.8" />
<line x1="90.26" y1="355.81" x2="90.26" y2="346.67" stroke="#d8a8a0" stroke-width="0.8" />
<line x1="87.86" y1="346.67" x2="92.66" y2="346.67" stroke="#d8a8a0" stroke-width="0.8" />
<line x1="98.03" y1="351.49" x2="98.03" y2="341.33" stroke="#d8a8a0" stroke-width="0.8" />
<line x1="95.63" y1="341.33" x2="100.43" y2="341.33" stroke="#d8a8a0" stroke-width="0.8" />
<line x1="108.39" y1="347.22" x2="108.39" y2="336.05" stroke="#d8a8a0" stroke-width="0.8" />
<line x1="105.99" y1="336.05" x2="110.79" y2="336.05" stroke="#d8a8a0" stroke-width="0.8" />
<line x1="116.16" y1="345.4" x2="116.16" y2="333.2" stroke="#d8a8a0" stroke-width="0.8" />
<line x1="113.76" y1="333.2" x2="118.56" y2="333.2" stroke="#d8a8a0" stroke-width="0.8" />
<line x1="126.52" y1="336.4" x2="126.52" y2="323.2" stroke="#d8a8a0" stroke-width="0.8" />
<line x1="124.12" y1="323.2" x2="128.92" y2="323.2" stroke="#d8a8a0" stroke-width="0.8" />
<line x1="134.29" y1="333.1" x2="134.29" y2="318.88" stroke="#d8a8a0" stroke-width="0.8" />
<line x1="131.89" y1="318.88" x2="136.69" y2="318.88" stroke="#d8a8a0" stroke-width="0.8" />
<line x1="144.65" y1="330" x2="144.65" y2="314.76" stroke="#d8a8a0" stroke-width="0.8" />
<line x1="142.25" y1="314.76" x2="147.05" y2="314.76" stroke="#d8a8a0" stroke-width="0.8" />
<line x1="152.42" y1="328.48" x2="152.42" y2="313.24" stroke="#d8a8a0" stroke-width="0.8" />
<line x1="150.02" y1="313.24" x2="154.82" y2="313.24" stroke="#d8a8a0" stroke-width="0.8" />
<line x1="162.78" y1="315.42" x2="162.78" y2="299.17" stroke="#d8a8a0" stroke-width="0.8" />
<line x1="160.38" y1="299.17" x2="165.18" y2="299.17" stroke="#d8a8a0" stroke-width="0.8" />
<line x1="170.55" y1="320.5" x2="170.55" y2="303.23" stroke="#d8a8a0" stroke-width="0.8" />
<line x1="168.15" y1="303.23" x2="172.95" y2="303.23" stroke="#d8a8a0" stroke-width="0.8" />
<line x1="180.91" y1="315.42" x2="180.91" y2="297.14" stroke="#d8a8a0" stroke-width="0.8" />
<line x1="178.51" y1="297.14" x2="183.31" y2="297.14" stroke="#d8a8a0" stroke-width="0.8" />
<line x1="188.68" y1="313.39" x2="188.68" y2="295.1" stroke="#d8a8a0" stroke-width="0.8" />
<line x1="186.28" y1="295.1" x2="191.08" y2="295.1" stroke="#d8a8a0" stroke-width="0.8" />
<line x1="199.04" y1="308.46" x2="199.04" y2="289.16" stroke="#d8a8a0" stroke-width="0.8" />
<line x1="196.64" y1="289.16" x2="201.44" y2="289.16" stroke="#d8a8a0" stroke-width="0.8" />
<line x1="54" y1="366.88" x2="54" y2="361.8" stroke="#b9d9a4" stroke-width="0.8" />
<line x1="51.6" y1="361.8" x2="56.4" y2="361.8" stroke="#b9d9a4" stroke-width="0.8" />
<line x1="61.77" y1="360.79" x2="61.77" y2="353.68" stroke="#b9d9a4" stroke-width="0.8" />
<line x1="59.37" y1="353.68" x2="64.17" y2="353.68" stroke="#b9d9a4" stroke-width="0.8" />
<line x1="72.13" y1="347.68" x2="72.13" y2="339.55" stroke="#b9d9a4" stroke-width="0.8" />
<line x1="69.73" y1="339.55" x2="74.53" y2="339.55" stroke="#b9d9a4" stroke-width="0.8" />
<line x1="79.9" y1="346.56" x2="79.9" y2="337.42" stroke="#b9d9a4" stroke-width="0.8" />
<line x1="77.5" y1="337.42" x2="82.3" y2="337.42" stroke="#b9d9a4" stroke-width="0.8" />
<line x1="90.26" y1="336.91" x2="90.26" y2="325.74" stroke="#b9d9a4" stroke-width="0.8" />
<line x1="87.86" y1="325.74" x2="92.66" y2="325.74" stroke="#b9d9a4" stroke-width="0.8" />
<line x1="98.03" y1="331.48" x2="98.03" y2="319.28" stroke="#b9d9a4" stroke-width="0.8" />
<line x1="95.63" y1="319.28" x2="100.43" y2="319.28" stroke="#b9d9a4" stroke-width="0.8" />
<line x1="108.39" y1="324.21" x2="108.39" y2="309.99" stroke="#b9d9a4" stroke-width="0.8" />
<line x1="105.99" y1="309.99" x2="110.79" y2="309.99" stroke="#b9d9a4" stroke-width="0.8" />
<line x1="116.16" y1="320.5" x2="116.16" y2="305.26" stroke="#b9d9a4" stroke-width="0.8" />
<line x1="113.76" y1="305.26" x2="118.56" y2="305.26" stroke="#b9d9a4" stroke-width="0.8" />
<line x1="126.52" y1="311.21" x2="126.52" y2="290.89" stroke="#b9d9a4" stroke-width="0.8" />
<line x1="124.12" y1="290.89" x2="128.92" y2="290.89" stroke="#b9d9a4" stroke-width="0.8" />
<line x1="54" y1="362.31" x2="54" y2="358.25" stroke="#666" stroke-width="0.8" />
<line x1="51.6" y1="358.25" x2="56.4" y2="358.25" stroke="#666" stroke-width="0.8" />
<line x1="61.77" y1="352.3" x2="61.77" y2="342.65" stroke="#666" stroke-width="0.8" />
<line x1="59.37" y1="342.65" x2="64.17" y2="342.65" stroke="#666" stroke-width="0.8" />
<line x1="72.13" y1="342.3" x2="72.13" y2="332.14" stroke="#666" stroke-width="0.8" />
<line x1="69.73" y1="332.14" x2="74.53" y2="332.14" stroke="#666" stroke-width="0.8" />
<line x1="79.9" y1="333" x2="79.9" y2="320.3" stroke="#666" stroke-width="0.8" />
<line x1="77.5" y1="320.3" x2="82.3" y2="320.3" stroke="#666" stroke-width="0.8" />
<line x1="90.26" y1="320" x2="90.26" y2="306.28" stroke="#666" stroke-width="0.8" />
<line x1="87.86" y1="306.28" x2="92.66" y2="306.28" stroke="#666" stroke-width="0.8" />
<line x1="98.03" y1="312.32" x2="98.03" y2="296.58" stroke="#666" stroke-width="0.8" />
<line x1="95.63" y1="296.58" x2="100.43" y2="296.58" stroke="#666" stroke-width="0.8" />
<line x1="108.39" y1="304.6" x2="108.39" y2="291.4" stroke="#666" stroke-width="0.8" />
<line x1="105.99" y1="291.4" x2="110.79" y2="291.4" stroke="#666" stroke-width="0.8" />
<line x1="116.16" y1="296.27" x2="116.16" y2="282.05" stroke="#666" stroke-width="0.8" />
<line x1="113.76" y1="282.05" x2="118.56" y2="282.05" stroke="#666" stroke-width="0.8" />
<line x1="126.52" y1="280.78" x2="126.52" y2="261.22" stroke="#666" stroke-width="0.8" />
<line x1="124.12" y1="261.22" x2="128.92" y2="261.22" stroke="#666" stroke-width="0.8" />
<polyline points="54,366.88 61.77,363.84 72.13,362.82 79.9,363.84 90.26,364.34 98.03,364.85 108.39,366.17 116.16,367.19 126.52,364.6 134.29,369.22 144.65,369.53 152.42,370.8 162.78,366.88 170.55,364.85 180.91,370.49 188.68,372.98 199.04,371.46 206.81,371.96 217.17,370.8 224.94,371.1 235.3,366.48 243.07,370.44 253.43,368.92" fill="none" stroke="#4c9cbc" stroke-width="1.2" stroke-linejoin="round" stroke-dasharray="2.4,1.6"/>
<circle cx="54" cy="366.88" r="2.5" fill="#5e8f8c"/>
<circle cx="61.77" cy="363.84" r="2.5" fill="#5e8f8c"/>
<circle cx="72.13" cy="362.82" r="2.5" fill="#5e8f8c"/>
<circle cx="79.9" cy="363.84" r="2.5" fill="#5e8f8c"/>
<circle cx="90.26" cy="364.34" r="2.5" fill="#5e8f8c"/>
<circle cx="98.03" cy="364.85" r="2.5" fill="#5e8f8c"/>
<circle cx="108.39" cy="366.17" r="2.5" fill="#5e8f8c"/>
<circle cx="116.16" cy="367.19" r="2.5" fill="#5e8f8c"/>
<circle cx="126.52" cy="364.6" r="2.5" fill="#5e8f8c"/>
<circle cx="134.29" cy="369.22" r="2.5" fill="#5e8f8c"/>
<circle cx="144.65" cy="369.53" r="2.5" fill="#5e8f8c"/>
<circle cx="152.42" cy="370.8" r="2.5" fill="#5e8f8c"/>
<circle cx="162.78" cy="366.88" r="2.5" fill="#5e8f8c"/>
<circle cx="170.55" cy="364.85" r="2.5" fill="#5e8f8c"/>
<circle cx="180.91" cy="370.49" r="2.5" fill="#5e8f8c"/>
<circle cx="188.68" cy="372.98" r="2.5" fill="#5e8f8c"/>
<circle cx="199.04" cy="371.46" r="2.5" fill="#5e8f8c"/>
<circle cx="206.81" cy="371.96" r="2.5" fill="#5e8f8c"/>
<circle cx="217.17" cy="370.8" r="2.5" fill="#5e8f8c"/>
<circle cx="224.94" cy="371.1" r="2.5" fill="#5e8f8c"/>
<circle cx="235.3" cy="366.48" r="2.5" fill="#5e8f8c"/>
<circle cx="243.07" cy="370.44" r="2.5" fill="#5e8f8c"/>
<circle cx="253.43" cy="368.92" r="2.5" fill="#5e8f8c"/>
<polyline points="54,365.36 61.77,361.8 72.13,355.81 79.9,360.79 90.26,363.84 98.03,360.79 108.39,363.02 116.16,362.82 126.52,360.79 134.29,360.28 144.65,358.5 152.42,357.74 162.78,362.82 170.55,354.18 180.91,359.26 188.68,355.1 199.04,350.78 206.81,354.59 217.17,353.17 224.94,349.51 235.3,347.68 243.07,348.49 253.43,347.68" fill="none" stroke="#cf9ccf" stroke-width="1.2" stroke-linejoin="round" stroke-dasharray="2.4,1.6"/>
<polygon points="54,362.6 56.76,365.36 54,368.12 51.24,365.36" fill="#fff" stroke="#b472bb" stroke-width="1.1"/>
<polygon points="61.77,359.04 64.53,361.8 61.77,364.56 59.01,361.8" fill="#fff" stroke="#b472bb" stroke-width="1.1"/>
<polygon points="72.13,353.05 74.89,355.81 72.13,358.57 69.37,355.81" fill="#fff" stroke="#b472bb" stroke-width="1.1"/>
<polygon points="79.9,358.03 82.66,360.79 79.9,363.55 77.14,360.79" fill="#fff" stroke="#b472bb" stroke-width="1.1"/>
<polygon points="90.26,361.08 93.02,363.84 90.26,366.6 87.5,363.84" fill="#fff" stroke="#b472bb" stroke-width="1.1"/>
<polygon points="98.03,358.03 100.79,360.79 98.03,363.55 95.27,360.79" fill="#fff" stroke="#b472bb" stroke-width="1.1"/>
<polygon points="108.39,360.26 111.15,363.02 108.39,365.78 105.63,363.02" fill="#fff" stroke="#b472bb" stroke-width="1.1"/>
<polygon points="116.16,360.06 118.92,362.82 116.16,365.58 113.4,362.82" fill="#fff" stroke="#b472bb" stroke-width="1.1"/>
<polygon points="126.52,358.03 129.28,360.79 126.52,363.55 123.76,360.79" fill="#fff" stroke="#b472bb" stroke-width="1.1"/>
<polygon points="134.29,357.52 137.05,360.28 134.29,363.04 131.53,360.28" fill="#fff" stroke="#b472bb" stroke-width="1.1"/>
<polygon points="144.65,355.74 147.41,358.5 144.65,361.26 141.89,358.5" fill="#fff" stroke="#b472bb" stroke-width="1.1"/>
<polygon points="152.42,354.98 155.18,357.74 152.42,360.5 149.66,357.74" fill="#fff" stroke="#b472bb" stroke-width="1.1"/>
<polygon points="162.78,360.06 165.54,362.82 162.78,365.58 160.02,362.82" fill="#fff" stroke="#b472bb" stroke-width="1.1"/>
<polygon points="170.55,351.42 173.31,354.18 170.55,356.94 167.79,354.18" fill="#fff" stroke="#b472bb" stroke-width="1.1"/>
<polygon points="180.91,356.5 183.67,359.26 180.91,362.02 178.15,359.26" fill="#fff" stroke="#b472bb" stroke-width="1.1"/>
<polygon points="188.68,352.34 191.44,355.1 188.68,357.86 185.92,355.1" fill="#fff" stroke="#b472bb" stroke-width="1.1"/>
<polygon points="199.04,348.02 201.8,350.78 199.04,353.54 196.28,350.78" fill="#fff" stroke="#b472bb" stroke-width="1.1"/>
<polygon points="206.81,351.83 209.57,354.59 206.81,357.35 204.05,354.59" fill="#fff" stroke="#b472bb" stroke-width="1.1"/>
<polygon points="217.17,350.41 219.93,353.17 217.17,355.93 214.41,353.17" fill="#fff" stroke="#b472bb" stroke-width="1.1"/>
<polygon points="224.94,346.75 227.7,349.51 224.94,352.27 222.18,349.51" fill="#fff" stroke="#b472bb" stroke-width="1.1"/>
<polygon points="235.3,344.92 238.06,347.68 235.3,350.44 232.54,347.68" fill="#fff" stroke="#b472bb" stroke-width="1.1"/>
<polygon points="243.07,345.73 245.83,348.49 243.07,351.25 240.31,348.49" fill="#fff" stroke="#b472bb" stroke-width="1.1"/>
<polygon points="253.43,344.92 256.19,347.68 253.43,350.44 250.67,347.68" fill="#fff" stroke="#b472bb" stroke-width="1.1"/>
<polyline points="54,363.84 61.77,360.28 72.13,358.76 79.9,357.74 90.26,356.72 98.03,355.71 108.39,355.71 116.16,354.69 126.52,353.17 134.29,352.15 144.65,349.61 152.42,344.58 162.78,344.58 170.55,339.71 180.91,346.21 188.68,347.38 199.04,346.21 206.81,346.21 217.17,348.9 224.94,341.79 235.3,340.32 243.07,341.79 253.43,338.79" fill="none" stroke="#858585" stroke-width="1.2" stroke-linejoin="round" />
<polygon points="51.48,361.95 56.52,361.95 54,366.36" fill="#fff" stroke="#7c7c7c" stroke-width="1.1"/>
<polygon points="59.25,358.39 64.29,358.39 61.77,362.8" fill="#fff" stroke="#7c7c7c" stroke-width="1.1"/>
<polygon points="69.61,356.87 74.65,356.87 72.13,361.28" fill="#fff" stroke="#7c7c7c" stroke-width="1.1"/>
<polygon points="77.38,355.85 82.42,355.85 79.9,360.26" fill="#fff" stroke="#7c7c7c" stroke-width="1.1"/>
<polygon points="87.74,354.83 92.78,354.83 90.26,359.24" fill="#fff" stroke="#7c7c7c" stroke-width="1.1"/>
<polygon points="95.51,353.82 100.55,353.82 98.03,358.23" fill="#fff" stroke="#7c7c7c" stroke-width="1.1"/>
<polygon points="105.87,353.82 110.91,353.82 108.39,358.23" fill="#fff" stroke="#7c7c7c" stroke-width="1.1"/>
<polygon points="113.64,352.8 118.68,352.8 116.16,357.21" fill="#fff" stroke="#7c7c7c" stroke-width="1.1"/>
<polygon points="124,351.28 129.04,351.28 126.52,355.69" fill="#fff" stroke="#7c7c7c" stroke-width="1.1"/>
<polygon points="131.77,350.26 136.81,350.26 134.29,354.67" fill="#fff" stroke="#7c7c7c" stroke-width="1.1"/>
<polygon points="142.13,347.72 147.17,347.72 144.65,352.13" fill="#fff" stroke="#7c7c7c" stroke-width="1.1"/>
<polygon points="149.9,342.69 154.94,342.69 152.42,347.1" fill="#fff" stroke="#7c7c7c" stroke-width="1.1"/>
<polygon points="160.26,342.69 165.3,342.69 162.78,347.1" fill="#fff" stroke="#7c7c7c" stroke-width="1.1"/>
<polygon points="168.03,337.82 173.07,337.82 170.55,342.23" fill="#fff" stroke="#7c7c7c" stroke-width="1.1"/>
<polygon points="178.39,344.32 183.43,344.32 180.91,348.73" fill="#fff" stroke="#7c7c7c" stroke-width="1.1"/>
<polygon points="186.16,345.49 191.2,345.49 188.68,349.9" fill="#fff" stroke="#7c7c7c" stroke-width="1.1"/>
<polygon points="196.52,344.32 201.56,344.32 199.04,348.73" fill="#fff" stroke="#7c7c7c" stroke-width="1.1"/>
<polygon points="204.29,344.32 209.33,344.32 206.81,348.73" fill="#fff" stroke="#7c7c7c" stroke-width="1.1"/>
<polygon points="214.65,347.01 219.69,347.01 217.17,351.42" fill="#fff" stroke="#7c7c7c" stroke-width="1.1"/>
<polygon points="222.42,339.9 227.46,339.9 224.94,344.31" fill="#fff" stroke="#7c7c7c" stroke-width="1.1"/>
<polygon points="232.78,338.43 237.82,338.43 235.3,342.84" fill="#fff" stroke="#7c7c7c" stroke-width="1.1"/>
<polygon points="240.55,339.9 245.59,339.9 243.07,344.31" fill="#fff" stroke="#7c7c7c" stroke-width="1.1"/>
<polygon points="250.91,336.9 255.95,336.9 253.43,341.31" fill="#fff" stroke="#7c7c7c" stroke-width="1.1"/>
<polyline points="54,363.84 61.77,359.26 72.13,355.2 79.9,353.68 90.26,355.2 98.03,353.68 108.39,354.69 116.16,351.64 126.52,353.17 134.29,352.3 144.65,348.6 152.42,349.21 162.78,352.3 170.55,342.8 180.91,343.01 188.68,341.48 199.04,336.61 206.81,338.18 217.17,336.61 224.94,336.2 235.3,328.48 243.07,330.82 253.43,330.82" fill="none" stroke="#3d9fbf" stroke-width="1.2" stroke-linejoin="round" />
<polygon points="54,360.96 56.88,363.84 54,366.71 51.12,363.84" fill="#fff" stroke="#3a9fc2" stroke-width="1.1"/>
<polygon points="61.77,356.39 64.64,359.26 61.77,362.14 58.89,359.26" fill="#fff" stroke="#3a9fc2" stroke-width="1.1"/>
<polygon points="72.13,352.32 75,355.2 72.13,358.07 69.25,355.2" fill="#fff" stroke="#3a9fc2" stroke-width="1.1"/>
<polygon points="79.9,350.8 82.78,353.68 79.9,356.55 77.03,353.68" fill="#fff" stroke="#3a9fc2" stroke-width="1.1"/>
<polygon points="90.26,352.32 93.13,355.2 90.26,358.07 87.38,355.2" fill="#fff" stroke="#3a9fc2" stroke-width="1.1"/>
<polygon points="98.03,350.8 100.91,353.68 98.03,356.55 95.16,353.68" fill="#fff" stroke="#3a9fc2" stroke-width="1.1"/>
<polygon points="108.39,351.82 111.27,354.69 108.39,357.57 105.52,354.69" fill="#fff" stroke="#3a9fc2" stroke-width="1.1"/>
<polygon points="116.16,348.77 119.03,351.64 116.16,354.52 113.28,351.64" fill="#fff" stroke="#3a9fc2" stroke-width="1.1"/>
<polygon points="126.52,350.29 129.39,353.17 126.52,356.04 123.64,353.17" fill="#fff" stroke="#3a9fc2" stroke-width="1.1"/>
<polygon points="134.29,349.43 137.16,352.3 134.29,355.18 131.41,352.3" fill="#fff" stroke="#3a9fc2" stroke-width="1.1"/>
<polygon points="144.65,345.72 147.52,348.6 144.65,351.47 141.77,348.6" fill="#fff" stroke="#3a9fc2" stroke-width="1.1"/>
<polygon points="152.42,346.33 155.29,349.21 152.42,352.08 149.54,349.21" fill="#fff" stroke="#3a9fc2" stroke-width="1.1"/>
<polygon points="162.78,349.43 165.66,352.3 162.78,355.18 159.91,352.3" fill="#fff" stroke="#3a9fc2" stroke-width="1.1"/>
<polygon points="170.55,339.93 173.43,342.8 170.55,345.68 167.68,342.8" fill="#fff" stroke="#3a9fc2" stroke-width="1.1"/>
<polygon points="180.91,340.13 183.78,343.01 180.91,345.88 178.03,343.01" fill="#fff" stroke="#3a9fc2" stroke-width="1.1"/>
<polygon points="188.68,338.61 191.56,341.48 188.68,344.36 185.81,341.48" fill="#fff" stroke="#3a9fc2" stroke-width="1.1"/>
<polygon points="199.04,333.73 201.91,336.61 199.04,339.48 196.16,336.61" fill="#fff" stroke="#3a9fc2" stroke-width="1.1"/>
<polygon points="206.81,335.31 209.69,338.18 206.81,341.06 203.94,338.18" fill="#fff" stroke="#3a9fc2" stroke-width="1.1"/>
<polygon points="217.17,333.73 220.04,336.61 217.17,339.48 214.29,336.61" fill="#fff" stroke="#3a9fc2" stroke-width="1.1"/>
<polygon points="224.94,333.33 227.81,336.2 224.94,339.08 222.06,336.2" fill="#fff" stroke="#3a9fc2" stroke-width="1.1"/>
<polygon points="235.3,325.6 238.17,328.48 235.3,331.35 232.42,328.48" fill="#fff" stroke="#3a9fc2" stroke-width="1.1"/>
<polygon points="243.07,327.94 245.94,330.82 243.07,333.69 240.19,330.82" fill="#fff" stroke="#3a9fc2" stroke-width="1.1"/>
<polygon points="253.43,327.94 256.3,330.82 253.43,333.69 250.55,330.82" fill="#fff" stroke="#3a9fc2" stroke-width="1.1"/>
<polyline points="54,362.82 61.77,357.99 72.13,351.14 79.9,351.64 90.26,354.18 98.03,355 108.39,355 116.16,353.52 126.52,350.12 134.29,347.07 144.65,339.96 152.42,339.96 162.78,325.23 170.55,324.21 180.91,337.72 188.68,333.86 199.04,324.21" fill="none" stroke="#2b8fcf" stroke-width="1.2" stroke-linejoin="round" />
<circle cx="54" cy="362.82" r="2.4" fill="#2b8fcf"/>
<circle cx="61.77" cy="357.99" r="2.4" fill="#2b8fcf"/>
<circle cx="72.13" cy="351.14" r="2.4" fill="#2b8fcf"/>
<circle cx="79.9" cy="351.64" r="2.4" fill="#2b8fcf"/>
<circle cx="90.26" cy="354.18" r="2.4" fill="#2b8fcf"/>
<circle cx="98.03" cy="355" r="2.4" fill="#2b8fcf"/>
<circle cx="108.39" cy="355" r="2.4" fill="#2b8fcf"/>
<circle cx="116.16" cy="353.52" r="2.4" fill="#2b8fcf"/>
<circle cx="126.52" cy="350.12" r="2.4" fill="#2b8fcf"/>
<circle cx="134.29" cy="347.07" r="2.4" fill="#2b8fcf"/>
<circle cx="144.65" cy="339.96" r="2.4" fill="#2b8fcf"/>
<circle cx="152.42" cy="339.96" r="2.4" fill="#2b8fcf"/>
<circle cx="162.78" cy="325.23" r="2.4" fill="#2b8fcf"/>
<circle cx="170.55" cy="324.21" r="2.4" fill="#2b8fcf"/>
<circle cx="180.91" cy="337.72" r="2.4" fill="#2b8fcf"/>
<circle cx="188.68" cy="333.86" r="2.4" fill="#2b8fcf"/>
<circle cx="199.04" cy="324.21" r="2.4" fill="#2b8fcf"/>
<polyline points="54,365.36 61.77,357.74 72.13,352.66 79.9,351.64 90.26,349.61 98.03,351.14 108.39,350.63 116.16,345.04 126.52,336.4 134.29,333.36 144.65,328.28 152.42,328.78 162.78,322.18 170.55,320.66 180.91,316.08 188.68,313.54 199.04,306.94" fill="none" stroke="#f0a04a" stroke-width="1.2" stroke-linejoin="round" />
<circle cx="54" cy="365.36" r="2.4" fill="#f0a04a"/>
<circle cx="61.77" cy="357.74" r="2.4" fill="#f0a04a"/>
<circle cx="72.13" cy="352.66" r="2.4" fill="#f0a04a"/>
<circle cx="79.9" cy="351.64" r="2.4" fill="#f0a04a"/>
<circle cx="90.26" cy="349.61" r="2.4" fill="#f0a04a"/>
<circle cx="98.03" cy="351.14" r="2.4" fill="#f0a04a"/>
<circle cx="108.39" cy="350.63" r="2.4" fill="#f0a04a"/>
<circle cx="116.16" cy="345.04" r="2.4" fill="#f0a04a"/>
<circle cx="126.52" cy="336.4" r="2.4" fill="#f0a04a"/>
<circle cx="134.29" cy="333.36" r="2.4" fill="#f0a04a"/>
<circle cx="144.65" cy="328.28" r="2.4" fill="#f0a04a"/>
<circle cx="152.42" cy="328.78" r="2.4" fill="#f0a04a"/>
<circle cx="162.78" cy="322.18" r="2.4" fill="#f0a04a"/>
<circle cx="170.55" cy="320.66" r="2.4" fill="#f0a04a"/>
<circle cx="180.91" cy="316.08" r="2.4" fill="#f0a04a"/>
<circle cx="188.68" cy="313.54" r="2.4" fill="#f0a04a"/>
<circle cx="199.04" cy="306.94" r="2.4" fill="#f0a04a"/>
<polyline points="54,362.82 61.77,359.26 72.13,356.88 79.9,356.88 90.26,355.81 98.03,351.49 108.39,347.22 116.16,345.4 126.52,336.4 134.29,333.1 144.65,330 152.42,328.48 162.78,315.42 170.55,320.5 180.91,315.42 188.68,313.39 199.04,308.46" fill="none" stroke="#c04a2c" stroke-width="1.2" stroke-linejoin="round" />
<polygon points="54,360.4 56.41,362.82 54,365.24 51.59,362.82" fill="#b03a2e"/>
<polygon points="61.77,356.85 64.19,359.26 61.77,361.68 59.35,359.26" fill="#b03a2e"/>
<polygon points="72.13,354.46 74.55,356.88 72.13,359.29 69.71,356.88" fill="#b03a2e"/>
<polygon points="79.9,354.46 82.32,356.88 79.9,359.29 77.48,356.88" fill="#b03a2e"/>
<polygon points="90.26,353.39 92.67,355.81 90.26,358.22 87.84,355.81" fill="#b03a2e"/>
<polygon points="98.03,349.08 100.45,351.49 98.03,353.91 95.61,351.49" fill="#b03a2e"/>
<polygon points="108.39,344.81 110.81,347.22 108.39,349.64 105.97,347.22" fill="#b03a2e"/>
<polygon points="116.16,342.98 118.58,345.4 116.16,347.81 113.74,345.4" fill="#b03a2e"/>
<polygon points="126.52,333.99 128.94,336.4 126.52,338.82 124.1,336.4" fill="#b03a2e"/>
<polygon points="134.29,330.69 136.7,333.1 134.29,335.52 131.88,333.1" fill="#b03a2e"/>
<polygon points="144.65,327.59 147.06,330 144.65,332.42 142.23,330" fill="#b03a2e"/>
<polygon points="152.42,326.06 154.83,328.48 152.42,330.89 150,328.48" fill="#b03a2e"/>
<polygon points="162.78,313.01 165.19,315.42 162.78,317.84 160.37,315.42" fill="#b03a2e"/>
<polygon points="170.55,318.09 172.97,320.5 170.55,322.92 168.14,320.5" fill="#b03a2e"/>
<polygon points="180.91,313.01 183.32,315.42 180.91,317.84 178.5,315.42" fill="#b03a2e"/>
<polygon points="188.68,310.98 191.09,313.39 188.68,315.81 186.27,313.39" fill="#b03a2e"/>
<polygon points="199.04,306.05 201.45,308.46 199.04,310.88 196.62,308.46" fill="#b03a2e"/>
<polyline points="54,366.88 61.77,360.79 72.13,347.68 79.9,346.56 90.26,336.91 98.03,331.48 108.39,324.21 116.16,320.5 126.52,311.21" fill="none" stroke="#79b94b" stroke-width="1.2" stroke-linejoin="round" />
<circle cx="54" cy="366.88" r="2.5" fill="#79b94b"/>
<circle cx="61.77" cy="360.79" r="2.5" fill="#79b94b"/>
<circle cx="72.13" cy="347.68" r="2.5" fill="#79b94b"/>
<circle cx="79.9" cy="346.56" r="2.5" fill="#79b94b"/>
<circle cx="90.26" cy="336.91" r="2.5" fill="#79b94b"/>
<circle cx="98.03" cy="331.48" r="2.5" fill="#79b94b"/>
<circle cx="108.39" cy="324.21" r="2.5" fill="#79b94b"/>
<circle cx="116.16" cy="320.5" r="2.5" fill="#79b94b"/>
<circle cx="126.52" cy="311.21" r="2.5" fill="#79b94b"/>
<polyline points="54,362.31 61.77,352.3 72.13,342.3 79.9,333 90.26,320 98.03,312.32 108.39,304.6 116.16,296.27 126.52,280.78" fill="none" stroke="#111" stroke-width="1.2" stroke-linejoin="round" />
<polygon points="51.38,360.34 56.62,360.34 54,364.94" fill="#111"/>
<polygon points="59.14,350.34 64.39,350.34 61.77,354.93" fill="#111"/>
<polygon points="69.5,340.33 74.75,340.33 72.13,344.92" fill="#111"/>
<polygon points="77.28,331.03 82.53,331.03 79.9,335.63" fill="#111"/>
<polygon points="87.63,318.03 92.88,318.03 90.26,322.62" fill="#111"/>
<polygon points="95.41,310.36 100.66,310.36 98.03,314.95" fill="#111"/>
<polygon points="105.77,302.63 111.02,302.63 108.39,307.23" fill="#111"/>
<polygon points="113.53,294.3 118.78,294.3 116.16,298.9" fill="#111"/>
<polygon points="123.89,278.81 129.14,278.81 126.52,283.4" fill="#111"/>
<line x1="52.3" y1="431.1" x2="73.5" y2="431.1" stroke="#333" stroke-width="1.0" />
<polygon points="60.5,429.23 65.5,429.23 63,433.6" fill="#111"/>
<text class="t" x="79.2" y="434.2" font-size="8.3" fill="#222">Vehicle</text>
<line x1="52.3" y1="444.2" x2="73.5" y2="444.2" stroke="#a8c795" stroke-width="1.0" />
<circle cx="63" cy="444.2" r="2.0" fill="#6fa84a"/>
<text class="t" x="79.2" y="446.9" font-size="8.3" fill="#222">BAY 1895344 (***, day 53; T/C<tspan font-size="6.1" dy="1.9">rel.area</tspan><tspan dy="-1.9"> = 0.69)</tspan></text>
<line x1="52.3" y1="457.7" x2="73.5" y2="457.7" stroke="#a8485e" stroke-width="1.0" />
<polygon points="63,455.6 65.1,457.7 63,459.8 60.9,457.7" fill="#9a2440"/>
<text class="t" x="79.2" y="460.8" font-size="8.3" fill="#222">Darolutamide (***, day 53; T/C<tspan font-size="6.1" dy="1.9">rel.area</tspan><tspan dy="-1.9"> = 0.36)</tspan></text>
<line x1="52.3" y1="471.5" x2="73.5" y2="471.5" stroke="#ecd0ac" stroke-width="1.0" />
<circle cx="63" cy="471.5" r="2.0" fill="#e3a560"/>
<text class="t" x="79.2" y="474.6" font-size="8.3" fill="#222">Radiation (***, day 53; T/C<tspan font-size="6.1" dy="1.9">rel.area</tspan><tspan dy="-1.9"> = 0.35)</tspan></text>
<line x1="52.3" y1="484.6" x2="73.5" y2="484.6" stroke="#9a9a9a" stroke-width="1.0" />
<polygon points="60.6,482.8 65.4,482.8 63,487" fill="#fff" stroke="#808080" stroke-width="1.0"/>
<text class="t" x="79.2" y="487.7" font-size="8.3" fill="#222">Castration (***, day 53; T/C<tspan font-size="6.1" dy="1.9">rel.area</tspan><tspan dy="-1.9"> = 0.16)</tspan></text>
<line x1="52.3" y1="498.3" x2="73.5" y2="498.3" stroke="#4a98b8" stroke-width="1.0" />
<circle cx="63" cy="498.3" r="2.0" fill="#2a86b8"/>
<text class="t" x="79.2" y="501.8" font-size="8.3" fill="#222">BAY 1895344 + radiation (***, day 53 vs. vehicle; T/C<tspan font-size="6.1" dy="1.9">rel.area</tspan><tspan dy="-1.9"> = 0.19)</tspan></text>
<line x1="52.3" y1="511.8" x2="73.5" y2="511.8" stroke="#52a8b8" stroke-width="1.0" />
<polygon points="63,509.5 65.3,511.8 63,514.1 60.7,511.8" fill="#fff" stroke="#3a9fc2" stroke-width="1.0"/>
<text class="t" x="79.2" y="515.3" font-size="8.3" fill="#222">BAY 1895344 + darolutamide</text>
<text class="t" x="79.2" y="525.2" font-size="8.3" fill="#222">(***, day 53 vs.vehicle; T/C<tspan font-size="6.1" dy="1.9">rel.area</tspan><tspan dy="-1.9"> = 0.17; **, day 81 vs.darolutamide)</tspan></text>
<line x1="52.3" y1="535.8" x2="73.5" y2="535.8" stroke="#d6b0d6" stroke-width="1.0" stroke-dasharray="2.2,1.6"/>
<polygon points="63,533.5 65.3,535.8 63,538.1 60.7,535.8" fill="#fff" stroke="#b472bb" stroke-width="1.0"/>
<text class="t" x="79.2" y="538.8" font-size="8.3" fill="#222">Darolutamide + radiation</text>
<text class="t" x="79.2" y="548.6" font-size="8.3" fill="#222">(***, day 53 vs.vehicle; T/C<tspan font-size="6.1" dy="1.9">rel.area</tspan><tspan dy="-1.9"> = 0.02; ***, day 81 vs.radiation; ***, day 81 vs.darolutamide)</tspan></text>
<line x1="52.3" y1="558.5" x2="73.5" y2="558.5" stroke="#5aa0bc" stroke-width="1.0" stroke-dasharray="2.2,1.6"/>
<circle cx="63" cy="558.5" r="2.0" fill="#5e8f8c"/>
<text class="t" x="79.2" y="561.4" font-size="8.3" fill="#222">BAY 1895344 + darolutamide + radiation</text>
<text class="t" x="79.2" y="571.3" font-size="8.3" fill="#222">(***, day 53 vs.vehicle; T/C<tspan font-size="6.1" dy="1.9">rel.area</tspan><tspan dy="-1.9"> = 0.01; ***, day 81 vs.radiation; ***, day 81 vs.darolutamide;</tspan></text>
<text class="t" x="79.2" y="582.1" font-size="8.3" fill="#222">***, day 102 vs.BAY 1895344 + radiation)</text>
</svg></body></html>
